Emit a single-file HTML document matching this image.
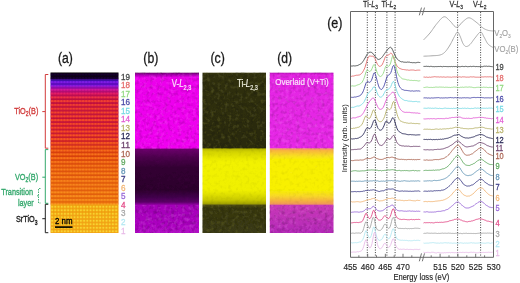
<!DOCTYPE html><html><head><meta charset="utf-8"><style>html,body{margin:0;padding:0;background:#fff;width:520px;height:283px;overflow:hidden}svg{display:block}text{font-family:"Liberation Sans",Arial,sans-serif}</style></head><body>
<svg width="520" height="283" viewBox="0 0 520 283">
<defs>
<filter id="gbl" x="0" y="0" width="520" height="283" filterUnits="userSpaceOnUse"><feGaussianBlur stdDeviation="0.3"/></filter>
<linearGradient id="gad" x1="0" y1="72.5" x2="0" y2="233.0" gradientUnits="userSpaceOnUse"><stop offset="0.0000" stop-color="#06000c"/><stop offset="0.0374" stop-color="#0a0018"/><stop offset="0.0467" stop-color="#4008a8"/><stop offset="0.0810" stop-color="#6008c0"/><stop offset="0.0935" stop-color="#8808a8"/><stop offset="0.1090" stop-color="#a80880"/><stop offset="0.1340" stop-color="#b80858"/><stop offset="0.1713" stop-color="#bc0c40"/><stop offset="0.3583" stop-color="#c41438"/><stop offset="0.4330" stop-color="#cc2028"/><stop offset="0.4953" stop-color="#d63c0c"/><stop offset="0.6075" stop-color="#dc5008"/><stop offset="0.8162" stop-color="#e46408"/><stop offset="0.8287" stop-color="#f0a010"/><stop offset="1.0000" stop-color="#f2a414"/></linearGradient>
<linearGradient id="gab" x1="0" y1="72.5" x2="0" y2="233.0" gradientUnits="userSpaceOnUse"><stop offset="0.0000" stop-color="#140028"/><stop offset="0.0374" stop-color="#1a0038"/><stop offset="0.0467" stop-color="#7420e8"/><stop offset="0.0810" stop-color="#8c18e0"/><stop offset="0.0935" stop-color="#b818c0"/><stop offset="0.1090" stop-color="#d81898"/><stop offset="0.1340" stop-color="#e82060"/><stop offset="0.1713" stop-color="#f24030"/><stop offset="0.3583" stop-color="#f84c24"/><stop offset="0.4330" stop-color="#f85a20"/><stop offset="0.4953" stop-color="#f8701a"/><stop offset="0.6075" stop-color="#f87e1c"/><stop offset="0.8162" stop-color="#f8901e"/><stop offset="0.8287" stop-color="#f8d02c"/><stop offset="1.0000" stop-color="#f8d434"/></linearGradient>
<pattern id="pt" x="50.5" y="72.5" width="3.1" height="3.8" patternUnits="userSpaceOnUse">
<ellipse cx="1.55" cy="2.1" rx="1.2" ry="1.05" fill="#fff"/><rect x="0" y="1.1" width="3.1" height="2.0" fill="#fff" opacity="0.6"/></pattern>
<pattern id="pt2" x="50.5" y="205" width="3.2" height="3.5" patternUnits="userSpaceOnUse">
<ellipse cx="1.6" cy="1.75" rx="1.15" ry="1.2" fill="#fff"/></pattern>
<filter id="bl" x="0" y="0" width="1" height="1"><feGaussianBlur stdDeviation="0.45"/></filter>
<mask id="ma"><rect x="50.5" y="72.5" width="68" height="132.7" fill="url(#pt)"/><rect x="50.5" y="205.2" width="68" height="28" fill="url(#pt2)"/></mask>
<linearGradient id="gb" x1="0" y1="72.5" x2="0" y2="233.0" gradientUnits="userSpaceOnUse"><stop offset="0.0000" stop-color="#600060"/><stop offset="0.0125" stop-color="#a000a8"/><stop offset="0.0312" stop-color="#ec00ec"/><stop offset="0.4692" stop-color="#f000f0"/><stop offset="0.4798" stop-color="#6a006a"/><stop offset="0.5327" stop-color="#4a004a"/><stop offset="0.5950" stop-color="#320032"/><stop offset="0.7321" stop-color="#2c002c"/><stop offset="0.7757" stop-color="#40004a"/><stop offset="0.8069" stop-color="#5a0066"/><stop offset="0.8287" stop-color="#a400b8"/><stop offset="1.0000" stop-color="#b008c4"/></linearGradient>
<linearGradient id="gc" x1="0" y1="72.5" x2="0" y2="233.0" gradientUnits="userSpaceOnUse"><stop offset="0.0000" stop-color="#303010"/><stop offset="0.4704" stop-color="#2a2a0c"/><stop offset="0.4754" stop-color="#b8b800"/><stop offset="0.4953" stop-color="#d4d400"/><stop offset="0.5327" stop-color="#e8e800"/><stop offset="0.5576" stop-color="#f2f200"/><stop offset="0.7321" stop-color="#f0f000"/><stop offset="0.7570" stop-color="#e2e200"/><stop offset="0.7944" stop-color="#c8c800"/><stop offset="0.8162" stop-color="#a4a400"/><stop offset="0.8287" stop-color="#4a4a12"/><stop offset="0.8442" stop-color="#36360f"/><stop offset="1.0000" stop-color="#3a3a14"/></linearGradient>
<linearGradient id="gd" x1="0" y1="72.5" x2="0" y2="233.0" gradientUnits="userSpaceOnUse"><stop offset="0.0000" stop-color="#b010b0"/><stop offset="0.0156" stop-color="#e424e4"/><stop offset="0.4673" stop-color="#e628e6"/><stop offset="0.4735" stop-color="#f08090"/><stop offset="0.4829" stop-color="#f8b040"/><stop offset="0.5202" stop-color="#f8e020"/><stop offset="0.5452" stop-color="#f8f000"/><stop offset="0.7321" stop-color="#f8f000"/><stop offset="0.7695" stop-color="#f8d828"/><stop offset="0.8006" stop-color="#f4b040"/><stop offset="0.8193" stop-color="#f09858"/><stop offset="0.8287" stop-color="#c838b8"/><stop offset="1.0000" stop-color="#b428b8"/></linearGradient>
<filter id="nz" x="0" y="0" width="1" height="1"><feTurbulence type="fractalNoise" baseFrequency="0.28" numOctaves="2" seed="7"/><feGaussianBlur stdDeviation="0.7"/><feColorMatrix type="matrix" values="0 0 0 0 0  0 0 0 0 0  0 0 0 0 0  0 0 0 -1.6 0.85"/></filter>
<filter id="nzb" x="0" y="0" width="1" height="1"><feTurbulence type="fractalNoise" baseFrequency="0.28" numOctaves="2" seed="11"/><feGaussianBlur stdDeviation="0.7"/><feColorMatrix type="matrix" values="0 0 0 0 1  0 0 0 0 0.6  0 0 0 0 1  0 0 0 -1.6 0.8"/></filter>
<filter id="nzc" x="0" y="0" width="1" height="1"><feTurbulence type="fractalNoise" baseFrequency="0.28" numOctaves="2" seed="11"/><feGaussianBlur stdDeviation="0.7"/><feColorMatrix type="matrix" values="0 0 0 0 0.55  0 0 0 0 0.55  0 0 0 0 0.1  0 0 0 -1.6 0.8"/></filter>
<filter id="nzd" x="0" y="0" width="1" height="1"><feTurbulence type="fractalNoise" baseFrequency="0.28" numOctaves="2" seed="11"/><feGaussianBlur stdDeviation="0.7"/><feColorMatrix type="matrix" values="0 0 0 0 1  0 0 0 0 0.55  0 0 0 0 1  0 0 0 -1.6 0.8"/></filter>
</defs>
<rect width="520" height="283" fill="#fff"/><g filter="url(#gbl)">
<g filter="url(#bl)"><rect x="50.5" y="72.5" width="68" height="160.5" fill="url(#gad)"/>
<rect x="50.5" y="72.5" width="68" height="160.5" fill="url(#gab)" mask="url(#ma)"/></g>
<text x="55" y="224.4" font-size="8.6" textLength="17.5" lengthAdjust="spacingAndGlyphs" fill="#000" stroke="#000" stroke-width="0.3">2 nm</text>
<rect x="55" y="226.3" width="17.5" height="1.6" fill="#000"/>
<rect x="135" y="72.7" width="64" height="160.3" fill="url(#gb)"/>
<rect x="202.5" y="72.7" width="63.5" height="160.3" fill="url(#gc)"/>
<rect x="269.8" y="72.7" width="63.7" height="160.3" fill="url(#gd)"/>
<rect x="135" y="72.7" width="64" height="75.8" filter="url(#nz)" opacity="0.25"/>
<rect x="135" y="72.7" width="64" height="75.8" filter="url(#nzb)" opacity="0.3"/>
<rect x="135" y="148.5" width="64" height="56.5" filter="url(#nz)" opacity="0.08"/>
<rect x="135" y="148.5" width="64" height="56.5" filter="url(#nzb)" opacity="0.05"/>
<rect x="135" y="205" width="64" height="28" filter="url(#nz)" opacity="0.3"/>
<rect x="135" y="205" width="64" height="28" filter="url(#nzb)" opacity="0.3"/>
<rect x="202.5" y="72.7" width="63.5" height="75.8" filter="url(#nz)" opacity="0.25"/>
<rect x="202.5" y="72.7" width="63.5" height="75.8" filter="url(#nzc)" opacity="0.3"/>
<rect x="202.5" y="148.5" width="63.5" height="56.5" filter="url(#nz)" opacity="0.08"/>
<rect x="202.5" y="148.5" width="63.5" height="56.5" filter="url(#nzc)" opacity="0.05"/>
<rect x="202.5" y="205" width="63.5" height="28" filter="url(#nz)" opacity="0.3"/>
<rect x="202.5" y="205" width="63.5" height="28" filter="url(#nzc)" opacity="0.3"/>
<rect x="269.8" y="72.7" width="63.7" height="75.8" filter="url(#nz)" opacity="0.25"/>
<rect x="269.8" y="72.7" width="63.7" height="75.8" filter="url(#nzd)" opacity="0.3"/>
<rect x="269.8" y="148.5" width="63.7" height="56.5" filter="url(#nz)" opacity="0.08"/>
<rect x="269.8" y="148.5" width="63.7" height="56.5" filter="url(#nzd)" opacity="0.05"/>
<rect x="269.8" y="205" width="63.7" height="28" filter="url(#nz)" opacity="0.3"/>
<rect x="269.8" y="205" width="63.7" height="28" filter="url(#nzd)" opacity="0.3"/>
<text transform="translate(171.7,87.1) scale(0.79,1)" font-size="10" fill="#fbe4fb" stroke="#fbe4fb" stroke-width="0.2">V-<tspan font-style="italic">L</tspan><tspan font-size="7" dy="2.4">2,3</tspan></text>
<text transform="translate(236.9,87.1) scale(0.79,1)" font-size="10" fill="#f4f4e4" stroke="#f4f4e4" stroke-width="0.2">Ti-<tspan font-style="italic">L</tspan><tspan font-size="7" dy="2.4">2,3</tspan></text>
<text transform="translate(275.2,85.1) scale(0.84,1)" font-size="9.5" fill="#fbe4fb" stroke="#fbe4fb" stroke-width="0.2">Overlaid (V+Ti)</text>
<text x="57.9" y="62.9" font-size="14" textLength="14.9" lengthAdjust="spacingAndGlyphs" fill="#1a1a1a" stroke="#1a1a1a" stroke-width="0.3">(a)</text>
<text x="143.3" y="62.9" font-size="14" textLength="15" lengthAdjust="spacingAndGlyphs" fill="#1a1a1a" stroke="#1a1a1a" stroke-width="0.3">(b)</text>
<text x="210.5" y="62.9" font-size="14" textLength="14.4" lengthAdjust="spacingAndGlyphs" fill="#1a1a1a" stroke="#1a1a1a" stroke-width="0.3">(c)</text>
<text x="277.2" y="62.9" font-size="14" textLength="14.8" lengthAdjust="spacingAndGlyphs" fill="#1a1a1a" stroke="#1a1a1a" stroke-width="0.3">(d)</text>
<text x="327.2" y="27.8" font-size="14" textLength="15.3" lengthAdjust="spacingAndGlyphs" fill="#1a1a1a" stroke="#1a1a1a" stroke-width="0.3">(e)</text>
<text x="121" y="79.6" font-size="8.6" fill="#454848" stroke="#454848" stroke-width="0.3" textLength="9" lengthAdjust="spacingAndGlyphs">19</text>
<text x="121" y="88.15" font-size="8.6" fill="#e46c6c" stroke="#e46c6c" stroke-width="0.3" textLength="9" lengthAdjust="spacingAndGlyphs">18</text>
<text x="121" y="96.7" font-size="8.6" fill="#94da84" stroke="#94da84" stroke-width="0.3" textLength="9" lengthAdjust="spacingAndGlyphs">17</text>
<text x="121" y="105.25" font-size="8.6" fill="#4a4aa8" stroke="#4a4aa8" stroke-width="0.3" textLength="9" lengthAdjust="spacingAndGlyphs">16</text>
<text x="121" y="113.8" font-size="8.6" fill="#78dae4" stroke="#78dae4" stroke-width="0.3" textLength="9" lengthAdjust="spacingAndGlyphs">15</text>
<text x="121" y="122.35" font-size="8.6" fill="#e25cd4" stroke="#e25cd4" stroke-width="0.3" textLength="9" lengthAdjust="spacingAndGlyphs">14</text>
<text x="121" y="130.9" font-size="8.6" fill="#b8b26a" stroke="#b8b26a" stroke-width="0.3" textLength="9" lengthAdjust="spacingAndGlyphs">13</text>
<text x="121" y="139.45" font-size="8.6" fill="#2a2a58" stroke="#2a2a58" stroke-width="0.3" textLength="9" lengthAdjust="spacingAndGlyphs">12</text>
<text x="121" y="148" font-size="8.6" fill="#704670" stroke="#704670" stroke-width="0.3" textLength="9" lengthAdjust="spacingAndGlyphs">11</text>
<text x="121" y="156.55" font-size="8.6" fill="#ac6654" stroke="#ac6654" stroke-width="0.3" textLength="9" lengthAdjust="spacingAndGlyphs">10</text>
<text x="121" y="165.1" font-size="8.6" fill="#62aa62" stroke="#62aa62" stroke-width="0.3" textLength="4.5" lengthAdjust="spacingAndGlyphs">9</text>
<text x="121" y="173.65" font-size="8.6" fill="#6898b8" stroke="#6898b8" stroke-width="0.3" textLength="4.5" lengthAdjust="spacingAndGlyphs">8</text>
<text x="121" y="182.2" font-size="8.6" fill="#404088" stroke="#404088" stroke-width="0.3" textLength="4.5" lengthAdjust="spacingAndGlyphs">7</text>
<text x="121" y="190.75" font-size="8.6" fill="#f2b676" stroke="#f2b676" stroke-width="0.3" textLength="4.5" lengthAdjust="spacingAndGlyphs">6</text>
<text x="121" y="199.3" font-size="8.6" fill="#9a6ad8" stroke="#9a6ad8" stroke-width="0.3" textLength="4.5" lengthAdjust="spacingAndGlyphs">5</text>
<text x="121" y="207.85" font-size="8.6" fill="#e24c88" stroke="#e24c88" stroke-width="0.3" textLength="4.5" lengthAdjust="spacingAndGlyphs">4</text>
<text x="121" y="216.4" font-size="8.6" fill="#a8a8a8" stroke="#a8a8a8" stroke-width="0.3" textLength="4.5" lengthAdjust="spacingAndGlyphs">3</text>
<text x="121" y="224.95" font-size="8.6" fill="#b4e8f2" stroke="#b4e8f2" stroke-width="0.3" textLength="4.5" lengthAdjust="spacingAndGlyphs">2</text>
<text x="121" y="233.5" font-size="8.6" fill="#e8bce8" stroke="#e8bce8" stroke-width="0.3" textLength="4.5" lengthAdjust="spacingAndGlyphs">1</text>
<path d="M48.3,74.5 H45.3 V148.2 H48.3 M45.3,111.6 H42.3" fill="none" stroke="#d23c3c" stroke-width="1"/>
<path d="M48.3,149.6 H45.3 V203.3 H48.3 M45.3,177.2 H42.3" fill="none" stroke="#33a86c" stroke-width="1"/>
<path d="M48.3,204.3 H45.3 V232.7 H48.3 M45.3,218.7 H42.3" fill="none" stroke="#202020" stroke-width="1"/>
<path d="M40.5,188.5 H38.5 V203 H40.5 M38.5,195.8 H36.8" fill="none" stroke="#33a86c" stroke-width="0.9" stroke-dasharray="1.5,1"/>
<text transform="translate(14.3,114) scale(0.77,1)" font-size="9.5" fill="#d23c3c" stroke="#d23c3c" stroke-width="0.35">TiO<tspan font-size="6.5" dy="2.2">2</tspan><tspan font-size="9.5" dy="-2.2">(B)</tspan></text>
<text transform="translate(15,179.8) scale(0.77,1)" font-size="9.5" fill="#33a86c" stroke="#33a86c" stroke-width="0.35">VO<tspan font-size="6.5" dy="2.2">2</tspan><tspan font-size="9.5" dy="-2.2">(B)</tspan></text>
<text transform="translate(1.2,194.8) scale(0.77,1)" font-size="9.5" fill="#33a86c" stroke="#33a86c" stroke-width="0.35">Transition</text>
<text transform="translate(17.9,206.2) scale(0.77,1)" font-size="9.5" fill="#33a86c" stroke="#33a86c" stroke-width="0.35">layer</text>
<text transform="translate(15.9,222.4) scale(0.77,1)" font-size="9.5" fill="#1a1a1a" stroke="#1a1a1a" stroke-width="0.35">SrTiO<tspan font-size="6.5" dy="2.2">3</tspan></text>
<line x1="367.3" y1="12" x2="367.3" y2="257" stroke="#3a3a3a" stroke-width="0.9" stroke-dasharray="1.1,1.4"/>
<line x1="375.4" y1="12" x2="375.4" y2="257" stroke="#3a3a3a" stroke-width="0.9" stroke-dasharray="1.1,1.4"/>
<line x1="386.9" y1="12" x2="386.9" y2="257" stroke="#3a3a3a" stroke-width="0.9" stroke-dasharray="1.1,1.4"/>
<line x1="395.1" y1="12" x2="395.1" y2="257" stroke="#3a3a3a" stroke-width="0.9" stroke-dasharray="1.1,1.4"/>
<line x1="457.6" y1="12" x2="457.6" y2="257" stroke="#3a3a3a" stroke-width="0.9" stroke-dasharray="1.1,1.4"/>
<line x1="480.6" y1="12" x2="480.6" y2="257" stroke="#3a3a3a" stroke-width="0.9" stroke-dasharray="1.1,1.4"/>
<path d="M423.5,40 424,39.48 424.66,38.8 425.44,38 426.31,37.09 427.24,36.12 428.19,35.09 429.12,34.04 430,33 430.85,31.91 431.71,30.74 432.59,29.5 433.47,28.23 434.35,26.97 435.24,25.74 436.12,24.57 437,23.5 437.88,22.45 438.77,21.37 439.67,20.3 440.56,19.29 441.45,18.39 442.32,17.64 443.17,17.1 444,16.8 444.79,16.79 445.56,17.03 446.3,17.48 447.03,18.09 447.76,18.79 448.49,19.55 449.23,20.3 450,21 450.79,21.77 451.59,22.71 452.4,23.74 453.22,24.78 454.04,25.73 454.86,26.53 455.68,27.08 456.5,27.3 457.32,27.14 458.14,26.65 458.96,25.92 459.78,25.02 460.6,24.05 461.41,23.09 462.21,22.21 463,21.5 463.77,20.88 464.51,20.24 465.24,19.61 465.97,19.03 466.7,18.52 467.44,18.12 468.21,17.87 469,17.8 469.83,17.93 470.68,18.25 471.55,18.72 472.44,19.29 473.33,19.95 474.23,20.64 475.12,21.33 476,22 476.89,22.69 477.8,23.46 478.71,24.28 479.62,25.12 480.52,25.94 481.39,26.72 482.22,27.41 483,28 483.72,28.48 484.39,28.87 485.02,29.2 485.62,29.48 486.21,29.72 486.8,29.92 487.39,30.11 488,30.3 488.66,30.47 489.37,30.6 490.09,30.71 490.81,30.79 491.49,30.86 492.1,30.91 492.61,30.96 493,31" fill="none" stroke="#a8a8a8" stroke-width="1"/>
<path d="M423.5,56.2 424.16,56.17 425.04,56.14 426.09,56.1 427.25,56.05 428.48,56 429.71,55.94 430.9,55.87 432,55.8 433.04,55.73 434.11,55.68 435.17,55.63 436.22,55.56 437.24,55.48 438.22,55.36 439.15,55.21 440,55 440.77,54.76 441.46,54.5 442.09,54.21 442.69,53.89 443.26,53.51 443.82,53.08 444.4,52.58 445,52 445.62,51.33 446.25,50.59 446.88,49.78 447.5,48.91 448.12,47.98 448.75,47.02 449.38,46.02 450,45 450.64,43.89 451.31,42.66 451.98,41.36 452.65,40.03 453.3,38.73 453.92,37.51 454.49,36.42 455,35.5 455.44,34.72 455.82,34.03 456.16,33.42 456.46,32.91 456.75,32.5 457.02,32.21 457.3,32.04 457.6,32 457.91,32.12 458.2,32.39 458.49,32.8 458.78,33.31 459.06,33.91 459.36,34.58 459.67,35.28 460,36 460.35,36.8 460.71,37.73 461.08,38.75 461.46,39.81 461.85,40.86 462.24,41.86 462.62,42.75 463,43.5 463.37,44.12 463.73,44.68 464.08,45.17 464.44,45.59 464.8,45.94 465.18,46.21 465.58,46.4 466,46.5 466.45,46.52 466.91,46.46 467.38,46.31 467.88,46.09 468.38,45.8 468.91,45.43 469.45,45 470,44.5 470.57,43.9 471.17,43.18 471.78,42.37 472.4,41.5 473.04,40.6 473.68,39.7 474.34,38.82 475,38 475.69,37.15 476.41,36.21 477.15,35.23 477.9,34.28 478.63,33.42 479.34,32.71 480,32.22 480.6,32 481.13,32.08 481.59,32.43 482.01,32.98 482.4,33.69 482.78,34.5 483.16,35.35 483.56,36.2 484,37 484.46,37.8 484.93,38.69 485.41,39.63 485.9,40.59 486.4,41.54 486.92,42.45 487.45,43.28 488,44 488.61,44.63 489.3,45.2 490.02,45.72 490.75,46.19 491.45,46.6 492.08,46.95 492.61,47.25 493,47.5" fill="none" stroke="#a8a8a8" stroke-width="1"/>
<path d="M351,66.11 351.7,66.01 352.4,66.01 353.1,65.89 353.8,65.79 354.5,65.94 355.2,66.03 355.9,65.68 356.6,65.67 357.3,65.61 358,65.15 358.7,64.99 359.4,64.58 360.1,64.29 360.8,63.79 361.5,63.39 362.2,62.56 362.9,61.52 363.6,60.55 364.3,59.32 365,58.04 365.7,56.99 366.4,55.54 367.1,54.35 367.8,53.51 368.5,53 369.2,52.32 369.9,52.19 370.6,52.18 371.3,52.32 372,52.74 372.7,53.26 373.4,54.2 374.1,55.03 374.8,56.08 375.5,56.84 376.2,57.58 376.9,58.54 377.6,59.16 378.3,59.48 379,59.23 379.7,59.11 380.4,58.68 381.1,58.21 381.8,57.44 382.5,56.6 383.2,55.68 383.9,54.62 384.6,53.62 385.3,52.57 386,51.74 386.7,50.79 387.4,49.89 388.1,48.91 388.8,48.12 389.5,47.7 390.2,47.25 390.9,47.33 391.6,48.02 392.3,49.32 393,50.77 393.7,52.56 394.4,53.98 395.1,55.47 395.8,56.92 396.5,58.24 397.2,58.95 397.9,59.52 398.6,60.41 399.3,60.73 400,61.17 400.7,61.6 401.4,61.84 402.1,61.8 402.8,61.75 403.5,62.11 404.2,62.09 404.9,62.35 405.6,62.22 406.3,62.32 407,62.16 407.7,62.02 408.4,62.16 409.1,62.04 409.8,62.27 410.5,62.52 411.2,62.45 411.9,62.66 412.6,62.72 413.3,62.67 414,62.55 414.7,62.69 415.4,62.82 416.1,62.55 416.8,62.63 417.5,62.39 418.2,62.28 418.9,62.45 419.6,62.51 420.3,62.53" fill="none" stroke="#454848" stroke-width="0.9" stroke-linejoin="round"/>
<path d="M423.5,66.42 424.2,66.41 424.9,66.42 425.6,66.4 426.3,66.24 427,66.34 427.7,66.44 428.4,66.37 429.1,66.53 429.8,66.61 430.5,66.35 431.2,66.4 431.9,66.42 432.6,66.67 433.3,66.64 434,66.55 434.7,66.74 435.4,66.59 436.1,66.5 436.8,66.69 437.5,66.56 438.2,66.55 438.9,66.45 439.6,66.54 440.3,66.43 441,66.35 441.7,66.62 442.4,66.77 443.1,66.58 443.8,66.35 444.5,66.52 445.2,66.53 445.9,66.48 446.6,66.57 447.3,66.6 448,66.64 448.7,66.64 449.4,66.54 450.1,66.61 450.8,66.62 451.5,66.45 452.2,66.68 452.9,66.58 453.6,66.44 454.3,66.55 455,66.65 455.7,66.46 456.4,66.59 457.1,66.69 457.8,66.64 458.5,66.5 459.2,66.67 459.9,66.68 460.6,66.68 461.3,66.46 462,66.5 462.7,66.35 463.4,66.55 464.1,66.6 464.8,66.5 465.5,66.33 466.2,66.42 466.9,66.57 467.6,66.71 468.3,66.61 469,66.7 469.7,66.49 470.4,66.34 471.1,66.55 471.8,66.62 472.5,66.44 473.2,66.4 473.9,66.31 474.6,66.45 475.3,66.63 476,66.67 476.7,66.47 477.4,66.58 478.1,66.62 478.8,66.61 479.5,66.6 480.2,66.6 480.9,66.37 481.6,66.58 482.3,66.76 483,66.46 483.7,66.31 484.4,66.17 485.1,66.33 485.8,66.2 486.5,66.13 487.2,66.4 487.9,66.33 488.6,66.25 489.3,66.28 490,66.36 490.7,66.51 491.4,66.57 492.1,66.66 492.8,66.79" fill="none" stroke="#454848" stroke-width="0.9" stroke-linejoin="round"/>
<path d="M351,76.33 351.7,76.32 352.4,76.06 353.1,76.21 353.8,75.9 354.5,75.76 355.2,75.54 355.9,75.37 356.6,75.22 357.3,75.2 358,75.35 358.7,75.02 359.4,74.94 360.1,74.66 360.8,74.09 361.5,73.5 362.2,72.79 362.9,71.61 363.6,70.39 364.3,69 365,67.29 365.7,65 366.4,62.77 367.1,60.36 367.8,58.42 368.5,57.04 369.2,56.15 369.9,55.79 370.6,56.14 371.3,56.22 372,56.2 372.7,56.23 373.4,56.4 374.1,57.3 374.8,58.29 375.5,59.62 376.2,61.52 376.9,63.14 377.6,64.52 378.3,65.47 379,66.14 379.7,66.41 380.4,66.17 381.1,65.94 381.8,65.2 382.5,64.02 383.2,62.52 383.9,60.82 384.6,58.67 385.3,56.93 386,56.07 386.7,55.46 387.4,55.3 388.1,55.16 388.8,54.8 389.5,54.08 390.2,53.42 390.9,53.13 391.6,53.46 392.3,54.43 393,56.14 393.7,57.98 394.4,59.87 395.1,61.84 395.8,63.69 396.5,65.17 397.2,66.27 397.9,67.06 398.6,67.6 399.3,68.22 400,68.49 400.7,68.79 401.4,69.1 402.1,69.35 402.8,69.49 403.5,69.5 404.2,69.67 404.9,69.67 405.6,69.8 406.3,69.99 407,69.99 407.7,69.94 408.4,70.2 409.1,70.21 409.8,70.23 410.5,70.05 411.2,69.93 411.9,70.11 412.6,70 413.3,69.99 414,70.22 414.7,70.28 415.4,70.47 416.1,70.28 416.8,70.25 417.5,70.13 418.2,70.1 418.9,70.15 419.6,70.15 420.3,70.23" fill="none" stroke="#e46c6c" stroke-width="0.9" stroke-linejoin="round"/>
<path d="M423.5,77.07 424.2,77 424.9,77.22 425.6,77.29 426.3,77.05 427,77.23 427.7,77.32 428.4,77.37 429.1,77.05 429.8,77.17 430.5,77.31 431.2,77.04 431.9,77.19 432.6,76.96 433.3,76.9 434,76.79 434.7,76.68 435.4,76.77 436.1,76.73 436.8,77.04 437.5,76.91 438.2,76.94 438.9,76.87 439.6,77.09 440.3,76.95 441,76.78 441.7,77.06 442.4,77.11 443.1,77.04 443.8,76.88 444.5,77.04 445.2,77.17 445.9,77.21 446.6,77.07 447.3,76.93 448,77.01 448.7,77.06 449.4,77.08 450.1,77.12 450.8,77.11 451.5,77.25 452.2,77.15 452.9,76.88 453.6,76.97 454.3,76.87 455,77.07 455.7,76.96 456.4,76.86 457.1,76.84 457.8,76.9 458.5,76.95 459.2,76.9 459.9,76.77 460.6,77.01 461.3,77.19 462,77 462.7,76.82 463.4,76.88 464.1,76.96 464.8,76.88 465.5,77.06 466.2,77.14 466.9,77.22 467.6,77.09 468.3,77.14 469,77.2 469.7,77.04 470.4,76.82 471.1,76.98 471.8,76.9 472.5,76.98 473.2,76.83 473.9,76.86 474.6,77.02 475.3,77.14 476,77.29 476.7,77.18 477.4,77.16 478.1,77.24 478.8,77.21 479.5,77.2 480.2,77 480.9,77.16 481.6,76.88 482.3,76.94 483,76.92 483.7,76.96 484.4,76.83 485.1,76.76 485.8,76.83 486.5,76.91 487.2,76.85 487.9,76.75 488.6,76.89 489.3,76.83 490,76.7 490.7,76.83 491.4,77.02 492.1,77.13 492.8,76.98" fill="none" stroke="#e46c6c" stroke-width="0.9" stroke-linejoin="round"/>
<path d="M351,86.19 351.7,85.96 352.4,85.83 353.1,85.98 353.8,86.05 354.5,86.02 355.2,85.97 355.9,85.65 356.6,85.31 357.3,84.99 358,84.98 358.7,84.56 359.4,84.38 360.1,84.01 360.8,83.37 361.5,82.91 362.2,82.15 362.9,80.76 363.6,79.39 364.3,77.59 365,75.34 365.7,72.92 366.4,71.15 367.1,70.06 367.8,70.03 368.5,70.65 369.2,71.41 369.9,71.55 370.6,71.01 371.3,70.18 372,68.63 372.7,66.91 373.4,65.25 374.1,64.43 374.8,65.42 375.5,67.19 376.2,69.45 376.9,71.94 377.6,73.53 378.3,74.98 379,75.77 379.7,76.22 380.4,76.54 381.1,76.28 381.8,75.71 382.5,74.7 383.2,73.56 383.9,71.71 384.6,69.47 385.3,67.37 386,65.83 386.7,65.43 387.4,65.67 388.1,66.24 388.8,66.23 389.5,65.56 390.2,64.14 390.9,62.1 391.6,59.28 392.3,56.69 393,55.63 393.7,56.34 394.4,59.09 395.1,62.9 395.8,66.16 396.5,69.35 397.2,71.77 397.9,73.48 398.6,74.87 399.3,75.95 400,76.74 400.7,77.44 401.4,78.04 402.1,78.56 402.8,79.01 403.5,79.06 404.2,79.14 404.9,79.34 405.6,79.42 406.3,79.68 407,79.91 407.7,80.03 408.4,79.92 409.1,80.24 409.8,80.26 410.5,80.4 411.2,80.28 411.9,80.41 412.6,80.51 413.3,80.55 414,80.53 414.7,80.43 415.4,80.57 416.1,80.44 416.8,80.7 417.5,80.79 418.2,80.93 418.9,81.02 419.6,80.79 420.3,80.67" fill="none" stroke="#94da84" stroke-width="0.9" stroke-linejoin="round"/>
<path d="M423.5,87.41 424.2,87.5 424.9,87.46 425.6,87.29 426.3,87.15 427,87.1 427.7,87.14 428.4,87.36 429.1,87.38 429.8,87.48 430.5,87.4 431.2,87.33 431.9,87.45 432.6,87.5 433.3,87.3 434,87.5 434.7,87.29 435.4,87.12 436.1,87 436.8,87.17 437.5,87.2 438.2,87.2 438.9,87.18 439.6,87.02 440.3,87.05 441,87.24 441.7,87.1 442.4,87.19 443.1,87.19 443.8,87.13 444.5,87.42 445.2,87.25 445.9,87.2 446.6,87.24 447.3,87.26 448,87.29 448.7,87.43 449.4,87.36 450.1,87.54 450.8,87.45 451.5,87.32 452.2,87.34 452.9,87.29 453.6,87.09 454.3,87 455,87.28 455.7,87.16 456.4,87.16 457.1,87.42 457.8,87.43 458.5,87.5 459.2,87.6 459.9,87.46 460.6,87.21 461.3,87.32 462,87.15 462.7,87.13 463.4,87.36 464.1,87.18 464.8,87.18 465.5,87.04 466.2,87.05 466.9,87.04 467.6,87.22 468.3,87.11 469,87 469.7,86.96 470.4,87.12 471.1,87.08 471.8,87.18 472.5,87.4 473.2,87.56 473.9,87.64 474.6,87.64 475.3,87.65 476,87.51 476.7,87.34 477.4,87.31 478.1,87.34 478.8,87.26 479.5,87.36 480.2,87.35 480.9,87.22 481.6,87.29 482.3,87.44 483,87.21 483.7,87.15 484.4,87.27 485.1,87.34 485.8,87.31 486.5,87.26 487.2,87.4 487.9,87.58 488.6,87.6 489.3,87.35 490,87.49 490.7,87.43 491.4,87.51 492.1,87.56 492.8,87.6" fill="none" stroke="#94da84" stroke-width="0.9" stroke-linejoin="round"/>
<path d="M351,97.3 351.7,97.31 352.4,97.36 353.1,97.33 353.8,97.25 354.5,97.03 355.2,97.05 355.9,97.03 356.6,96.78 357.3,96.58 358,96.25 358.7,96.23 359.4,95.9 360.1,95.5 360.8,95.12 361.5,94.06 362.2,93.19 362.9,92.01 363.6,90.27 364.3,88.39 365,86.07 365.7,83.94 366.4,82.34 367.1,81.58 367.8,81.4 368.5,82 369.2,82.29 369.9,82.39 370.6,81.7 371.3,80.68 372,78.98 372.7,76.79 373.4,74.37 374.1,72.89 374.8,73.02 375.5,74.78 376.2,77.2 376.9,79.85 377.6,82.56 378.3,85.1 379,87.02 379.7,88.32 380.4,89.08 381.1,89.45 381.8,89.36 382.5,88.59 383.2,87.4 383.9,86.2 384.6,84.2 385.3,82.17 386,79.8 386.7,77.53 387.4,75.85 388.1,75.34 388.8,75.07 389.5,74.62 390.2,73.62 390.9,72.44 391.6,70.44 392.3,67.84 393,66.02 393.7,65.3 394.4,66.52 395.1,69.2 395.8,72.62 396.5,76.51 397.2,79.69 397.9,82.38 398.6,84.47 399.3,86.18 400,87.25 400.7,88.26 401.4,88.93 402.1,89.47 402.8,89.61 403.5,89.88 404.2,90.17 404.9,90.43 405.6,90.37 406.3,90.42 407,90.43 407.7,90.6 408.4,90.68 409.1,90.9 409.8,90.8 410.5,91.05 411.2,91.03 411.9,90.9 412.6,90.86 413.3,91.11 414,91.2 414.7,91 415.4,90.98 416.1,90.87 416.8,90.81 417.5,90.97 418.2,90.87 418.9,90.89 419.6,91.08 420.3,91.19" fill="none" stroke="#4a4aa8" stroke-width="0.9" stroke-linejoin="round"/>
<path d="M423.5,97.99 424.2,97.96 424.9,97.7 425.6,97.91 426.3,97.84 427,97.99 427.7,98.1 428.4,97.91 429.1,97.98 429.8,98.11 430.5,98.14 431.2,97.94 431.9,97.85 432.6,98.04 433.3,98.06 434,97.75 434.7,97.89 435.4,97.83 436.1,97.85 436.8,97.71 437.5,97.7 438.2,97.61 438.9,97.67 439.6,97.86 440.3,97.98 441,98.09 441.7,97.83 442.4,97.99 443.1,98.12 443.8,97.79 444.5,97.93 445.2,97.7 445.9,97.92 446.6,97.89 447.3,97.98 448,97.76 448.7,97.73 449.4,97.69 450.1,97.62 450.8,97.53 451.5,97.71 452.2,97.7 452.9,97.76 453.6,97.95 454.3,97.74 455,97.72 455.7,97.62 456.4,97.82 457.1,97.79 457.8,97.81 458.5,97.71 459.2,97.93 459.9,97.95 460.6,97.89 461.3,98.05 462,97.92 462.7,97.77 463.4,97.82 464.1,97.74 464.8,97.72 465.5,97.88 466.2,97.91 466.9,97.65 467.6,97.78 468.3,97.82 469,97.99 469.7,98.04 470.4,98.09 471.1,97.79 471.8,97.69 472.5,97.57 473.2,97.45 473.9,97.54 474.6,97.45 475.3,97.58 476,97.7 476.7,97.54 477.4,97.47 478.1,97.4 478.8,97.57 479.5,97.54 480.2,97.69 480.9,97.51 481.6,97.44 482.3,97.68 483,97.54 483.7,97.78 484.4,97.97 485.1,97.8 485.8,97.89 486.5,97.85 487.2,97.77 487.9,97.98 488.6,97.8 489.3,97.9 490,97.89 490.7,97.92 491.4,97.77 492.1,97.67 492.8,97.82" fill="none" stroke="#4a4aa8" stroke-width="0.9" stroke-linejoin="round"/>
<path d="M351,107.46 351.7,107.42 352.4,107.31 353.1,107.36 353.8,107.31 354.5,106.97 355.2,106.75 355.9,106.44 356.6,106.19 357.3,106.01 358,106.03 358.7,106.04 359.4,105.85 360.1,105.52 360.8,105.1 361.5,104.62 362.2,104.12 362.9,103.25 363.6,102.54 364.3,101.49 365,100.04 365.7,98.48 366.4,96.99 367.1,95.43 367.8,93.77 368.5,92.89 369.2,92.24 369.9,91.61 370.6,91.01 371.3,90.38 372,89.46 372.7,88.27 373.4,87.04 374.1,86.69 374.8,87.04 375.5,88.39 376.2,90.09 376.9,92.26 377.6,93.99 378.3,95.42 379,96.25 379.7,96.82 380.4,97.21 381.1,97.02 381.8,96.79 382.5,96.12 383.2,95.2 383.9,93.76 384.6,92.41 385.3,91.14 386,90.23 386.7,89.6 387.4,89.36 388.1,89.29 388.8,88.96 389.5,88.35 390.2,87.58 390.9,86.36 391.6,84.5 392.3,82.73 393,81.67 393.7,81.53 394.4,82.79 395.1,85.04 395.8,87.65 396.5,90.2 397.2,92.14 397.9,93.69 398.6,95.01 399.3,96.28 400,97.19 400.7,97.81 401.4,98.37 402.1,98.93 402.8,99.44 403.5,99.79 404.2,100.22 404.9,100.54 405.6,100.57 406.3,100.5 407,100.69 407.7,100.91 408.4,101.1 409.1,101.2 409.8,101.13 410.5,101.27 411.2,101.15 411.9,101.46 412.6,101.59 413.3,101.59 414,101.66 414.7,101.52 415.4,101.46 416.1,101.39 416.8,101.5 417.5,101.83 418.2,101.8 418.9,101.81 419.6,101.84 420.3,101.96" fill="none" stroke="#78dae4" stroke-width="0.9" stroke-linejoin="round"/>
<path d="M423.5,108.26 424.2,108.1 424.9,108.35 425.6,108.26 426.3,108.33 427,108.31 427.7,108.13 428.4,108 429.1,108.06 429.8,108.29 430.5,108.11 431.2,108.32 431.9,108.37 432.6,108.2 433.3,108.32 434,108.41 434.7,108.17 435.4,108.03 436.1,108.22 436.8,108.3 437.5,108.39 438.2,108.52 438.9,108.54 439.6,108.23 440.3,108.45 441,108.51 441.7,108.56 442.4,108.64 443.1,108.49 443.8,108.31 444.5,108.16 445.2,108.16 445.9,108.07 446.6,108.38 447.3,108.44 448,108.18 448.7,108.42 449.4,108.47 450.1,108.41 450.8,108.47 451.5,108.38 452.2,108.55 452.9,108.57 453.6,108.26 454.3,108.43 455,108.2 455.7,108.38 456.4,108.13 457.1,108.12 457.8,108.13 458.5,108.35 459.2,108.53 459.9,108.32 460.6,108.46 461.3,108.53 462,108.3 462.7,108.13 463.4,108.4 464.1,108.16 464.8,108.2 465.5,108.29 466.2,108.47 466.9,108.45 467.6,108.17 468.3,108.32 469,108.48 469.7,108.56 470.4,108.62 471.1,108.56 471.8,108.27 472.5,108.47 473.2,108.54 473.9,108.25 474.6,108.05 475.3,107.94 476,108.2 476.7,108.3 477.4,108.1 478.1,108.19 478.8,108.14 479.5,108.29 480.2,108.5 480.9,108.49 481.6,108.3 482.3,108.18 483,108.2 483.7,108.25 484.4,108.26 485.1,108.3 485.8,108.28 486.5,108.14 487.2,108.34 487.9,108.28 488.6,108.1 489.3,108.03 490,108.28 490.7,108.08 491.4,108.02 492.1,108.28 492.8,108.39" fill="none" stroke="#78dae4" stroke-width="0.9" stroke-linejoin="round"/>
<path d="M351,118.26 351.7,118.34 352.4,117.96 353.1,117.95 353.8,117.72 354.5,117.88 355.2,117.98 355.9,117.62 356.6,117.38 357.3,117.08 358,116.94 358.7,116.81 359.4,116.47 360.1,116.37 360.8,115.85 361.5,115.26 362.2,114.65 362.9,113.61 363.6,112.57 364.3,111.26 365,109.89 365.7,108.45 366.4,106.98 367.1,105.51 367.8,104.1 368.5,102.94 369.2,101.92 369.9,100.95 370.6,100.22 371.3,99.1 372,98.47 372.7,98.14 373.4,98.11 374.1,98.67 374.8,100.06 375.5,101.63 376.2,103.52 376.9,104.99 377.6,106.58 378.3,107.85 379,108.78 379.7,109.22 380.4,109.33 381.1,109.35 381.8,109.01 382.5,108.22 383.2,107.36 383.9,105.96 384.6,104.14 385.3,102.26 386,100.69 386.7,98.81 387.4,97.52 388.1,96.3 388.8,95.71 389.5,95.26 390.2,94.59 390.9,93.73 391.6,93.08 392.3,92.29 393,91.96 393.7,92.42 394.4,93.62 395.1,95.36 395.8,97.57 396.5,99.92 397.2,102.05 397.9,103.93 398.6,105.74 399.3,107.45 400,108.76 400.7,109.72 401.4,110.36 402.1,111.06 402.8,111.6 403.5,111.88 404.2,112.12 404.9,112.41 405.6,112.4 406.3,112.26 407,112.37 407.7,112.37 408.4,112.36 409.1,112.36 409.8,112.35 410.5,112.57 411.2,112.61 411.9,112.89 412.6,112.74 413.3,112.88 414,112.94 414.7,112.8 415.4,112.99 416.1,113.15 416.8,112.98 417.5,112.98 418.2,113.21 418.9,113.38 419.6,113.35 420.3,113.49" fill="none" stroke="#e25cd4" stroke-width="0.9" stroke-linejoin="round"/>
<path d="M423.5,118.83 424.2,118.94 424.9,118.96 425.6,118.93 426.3,118.85 427,118.84 427.7,118.74 428.4,118.67 429.1,118.73 429.8,118.91 430.5,118.63 431.2,118.58 431.9,118.83 432.6,118.81 433.3,118.66 434,118.47 434.7,118.75 435.4,118.95 436.1,118.86 436.8,118.82 437.5,118.59 438.2,118.48 438.9,118.62 439.6,118.67 440.3,118.61 441,118.44 441.7,118.62 442.4,118.64 443.1,118.77 443.8,118.59 444.5,118.73 445.2,118.4 445.9,118.35 446.6,118.28 447.3,118.41 448,118.4 448.7,118.25 449.4,117.96 450.1,117.88 450.8,117.9 451.5,117.57 452.2,117.47 452.9,117.43 453.6,117.52 454.3,117.49 455,117.19 455.7,117.33 456.4,117.23 457.1,117.13 457.8,117.19 458.5,117.09 459.2,117.04 459.9,117.1 460.6,117.25 461.3,117.65 462,118.01 462.7,118.1 463.4,118.25 464.1,118.43 464.8,118.25 465.5,118.44 466.2,118.3 466.9,118.15 467.6,118.42 468.3,118.22 469,118.31 469.7,118.42 470.4,118.47 471.1,118.54 471.8,118.34 472.5,118.24 473.2,117.93 473.9,117.71 474.6,117.88 475.3,117.79 476,117.7 476.7,117.7 477.4,117.63 478.1,117.56 478.8,117.31 479.5,117.31 480.2,117.41 480.9,117.44 481.6,117.4 482.3,117.38 483,117.57 483.7,117.55 484.4,117.81 485.1,117.82 485.8,117.91 486.5,118.2 487.2,118.16 487.9,118.32 488.6,118.38 489.3,118.41 490,118.44 490.7,118.54 491.4,118.79 492.1,118.62 492.8,118.49" fill="none" stroke="#e25cd4" stroke-width="0.9" stroke-linejoin="round"/>
<path d="M351,128.51 351.7,128.46 352.4,128.54 353.1,128.28 353.8,128.18 354.5,128.28 355.2,128.03 355.9,127.75 356.6,127.79 357.3,127.44 358,127.34 358.7,127.28 359.4,126.81 360.1,126.45 360.8,125.71 361.5,124.89 362.2,124.01 362.9,122.57 363.6,120.69 364.3,118.86 365,117.11 365.7,115.93 366.4,116.05 367.1,116.91 367.8,117.85 368.5,118.32 369.2,118.53 369.9,118.13 370.6,116.81 371.3,115.15 372,113.24 372.7,111.1 373.4,109.9 374.1,110.38 374.8,111.93 375.5,114.14 376.2,116.3 376.9,118.28 377.6,119.88 378.3,120.69 379,121.19 379.7,121.63 380.4,121.73 381.1,121.55 381.8,121.28 382.5,120.5 383.2,119.5 383.9,118.2 384.6,116.56 385.3,114.25 386,111.88 386.7,109.6 387.4,108.59 388.1,108.59 388.8,109.27 389.5,109.64 390.2,109.32 390.9,108.42 391.6,106.65 392.3,104.14 393,102.09 393.7,101.34 394.4,102.89 395.1,105.97 395.8,109.26 396.5,112.14 397.2,114.6 397.9,116.69 398.6,118.31 399.3,119.65 400,120.52 400.7,121.15 401.4,121.34 402.1,121.9 402.8,121.94 403.5,122.23 404.2,122.48 404.9,122.75 405.6,122.64 406.3,122.95 407,123 407.7,123.08 408.4,123.3 409.1,123.43 409.8,123.2 410.5,123.16 411.2,123.18 411.9,123.13 412.6,123.47 413.3,123.42 414,123.37 414.7,123.59 415.4,123.63 416.1,123.43 416.8,123.6 417.5,123.52 418.2,123.74 418.9,123.66 419.6,123.79 420.3,123.77" fill="none" stroke="#b8b26a" stroke-width="0.9" stroke-linejoin="round"/>
<path d="M423.5,129.43 424.2,129.23 424.9,129.16 425.6,129.23 426.3,129.19 427,129.28 427.7,129.16 428.4,129.33 429.1,129.31 429.8,129.27 430.5,129.34 431.2,129.53 431.9,129.58 432.6,129.41 433.3,129.49 434,129.29 434.7,129.29 435.4,129.08 436.1,129 436.8,129 437.5,129.15 438.2,129.38 438.9,129.29 439.6,129.14 440.3,128.97 441,129.17 441.7,129.3 442.4,128.99 443.1,128.9 443.8,128.94 444.5,128.83 445.2,128.99 445.9,128.88 446.6,128.73 447.3,128.63 448,128.72 448.7,128.75 449.4,128.5 450.1,128.18 450.8,128.27 451.5,128.33 452.2,128.28 452.9,127.88 453.6,127.77 454.3,127.64 455,127.28 455.7,127.21 456.4,127.3 457.1,127.17 457.8,127.41 458.5,127.48 459.2,127.42 459.9,127.7 460.6,128.02 461.3,128.08 462,128.27 462.7,128.16 463.4,128.52 464.1,128.46 464.8,128.64 465.5,128.57 466.2,128.69 466.9,128.67 467.6,128.79 468.3,128.89 469,128.83 469.7,128.61 470.4,128.65 471.1,128.68 471.8,128.58 472.5,128.61 473.2,128.48 473.9,128.24 474.6,128.05 475.3,127.86 476,127.83 476.7,127.88 477.4,127.86 478.1,127.68 478.8,127.6 479.5,127.39 480.2,127.39 480.9,127.2 481.6,127.2 482.3,127.25 483,127.32 483.7,127.53 484.4,127.78 485.1,128.05 485.8,128.39 486.5,128.33 487.2,128.46 487.9,128.76 488.6,128.61 489.3,128.7 490,128.75 490.7,128.88 491.4,129.11 492.1,128.87 492.8,129.1" fill="none" stroke="#b8b26a" stroke-width="0.9" stroke-linejoin="round"/>
<path d="M351,139.11 351.7,138.8 352.4,138.97 353.1,138.88 353.8,138.8 354.5,138.82 355.2,138.49 355.9,138.47 356.6,138.57 357.3,138.36 358,138.36 358.7,137.94 359.4,137.49 360.1,137.04 360.8,136.94 361.5,136.33 362.2,135.78 362.9,134.93 363.6,133.94 364.3,132.67 365,131.26 365.7,129.57 366.4,128.53 367.1,127.71 367.8,128.08 368.5,128.2 369.2,128.62 369.9,128.67 370.6,127.92 371.3,126.87 372,125.22 372.7,123.33 373.4,121.34 374.1,120.21 374.8,120.03 375.5,121.3 376.2,123.14 376.9,125.56 377.6,127.52 378.3,128.73 379,129.47 379.7,130.11 380.4,130.23 381.1,130.09 381.8,129.65 382.5,128.78 383.2,127.43 383.9,125.98 384.6,124.08 385.3,122.13 386,121.18 386.7,121.14 387.4,121.99 388.1,122.9 388.8,123.31 389.5,123.11 390.2,122.22 390.9,121.03 391.6,119.53 392.3,118.03 393,117.54 393.7,118.33 394.4,120.17 395.1,122.56 395.8,125.06 396.5,127.19 397.2,128.91 397.9,130.21 398.6,131.06 399.3,131.85 400,132.17 400.7,132.6 401.4,133.05 402.1,133.35 402.8,133.76 403.5,133.76 404.2,133.79 404.9,134.03 405.6,134.04 406.3,134.28 407,134.48 407.7,134.62 408.4,134.73 409.1,134.65 409.8,134.59 410.5,134.54 411.2,134.8 411.9,134.68 412.6,134.74 413.3,134.84 414,134.85 414.7,134.9 415.4,135.04 416.1,135.04 416.8,134.94 417.5,134.86 418.2,134.73 418.9,134.97 419.6,134.82 420.3,134.77" fill="none" stroke="#2a2a58" stroke-width="0.9" stroke-linejoin="round"/>
<path d="M423.5,139.43 424.2,139.3 424.9,139.6 425.6,139.49 426.3,139.37 427,139.64 427.7,139.59 428.4,139.4 429.1,139.57 429.8,139.43 430.5,139.31 431.2,139.45 431.9,139.65 432.6,139.74 433.3,139.51 434,139.55 434.7,139.62 435.4,139.59 436.1,139.36 436.8,139.5 437.5,139.68 438.2,139.37 438.9,139.44 439.6,139.44 440.3,139.16 441,139.27 441.7,139.39 442.4,139.08 443.1,139.13 443.8,139.13 444.5,138.76 445.2,138.79 445.9,138.44 446.6,138.4 447.3,138.3 448,138.19 448.7,137.88 449.4,137.57 450.1,137.34 450.8,137.03 451.5,136.82 452.2,136.33 452.9,135.87 453.6,135.55 454.3,135.22 455,135.25 455.7,135.13 456.4,135.03 457.1,134.98 457.8,134.62 458.5,134.55 459.2,134.68 459.9,135.11 460.6,135.76 461.3,136.19 462,136.77 462.7,136.87 463.4,137.32 464.1,137.66 464.8,137.63 465.5,137.97 466.2,137.86 466.9,138.06 467.6,138 468.3,138.16 469,137.87 469.7,137.84 470.4,137.78 471.1,137.51 471.8,137.29 472.5,137.19 473.2,137.08 473.9,136.69 474.6,136.57 475.3,136 476,135.77 476.7,135.58 477.4,135.29 478.1,135.12 478.8,134.87 479.5,134.59 480.2,134.48 480.9,134.49 481.6,134.63 482.3,134.78 483,134.91 483.7,135.32 484.4,135.59 485.1,136.04 485.8,136.61 486.5,137.06 487.2,137.14 487.9,137.44 488.6,137.73 489.3,137.91 490,137.91 490.7,138.16 491.4,138.33 492.1,138.46 492.8,138.7" fill="none" stroke="#2a2a58" stroke-width="0.9" stroke-linejoin="round"/>
<path d="M351,149.79 351.7,149.72 352.4,149.66 353.1,149.64 353.8,149.6 354.5,149.45 355.2,149.58 355.9,149.28 356.6,149.46 357.3,149.21 358,149.33 358.7,149.08 359.4,149.11 360.1,149.13 360.8,148.81 361.5,148.33 362.2,147.8 362.9,147.14 363.6,146.3 364.3,145.71 365,144.7 365.7,143.78 366.4,142.77 367.1,142.51 367.8,142.61 368.5,142.88 369.2,142.9 369.9,142.77 370.6,142.08 371.3,141.04 372,139.66 372.7,137.44 373.4,135.63 374.1,134.37 374.8,134.1 375.5,135.57 376.2,137.57 376.9,139.96 377.6,141.9 378.3,143.19 379,144.45 379.7,145.06 380.4,145.22 381.1,145.55 381.8,145.38 382.5,145.01 383.2,144.5 383.9,143.66 384.6,142.61 385.3,141.63 386,140.36 386.7,139.11 387.4,138.3 388.1,138.6 388.8,138.98 389.5,139.46 390.2,139.17 390.9,138.66 391.6,137.66 392.3,136.37 393,135.59 393.7,135.34 394.4,136.21 395.1,137.77 395.8,139.77 396.5,141.52 397.2,142.94 397.9,143.69 398.6,144.46 399.3,145.02 400,145.33 400.7,145.48 401.4,145.76 402.1,145.94 402.8,145.89 403.5,145.87 404.2,146.09 404.9,146.33 405.6,146.11 406.3,146.08 407,146.13 407.7,146.26 408.4,146.1 409.1,146.24 409.8,146.43 410.5,146.6 411.2,146.59 411.9,146.48 412.6,146.53 413.3,146.3 414,146.3 414.7,146.39 415.4,146.36 416.1,146.36 416.8,146.36 417.5,146.42 418.2,146.45 418.9,146.48 419.6,146.35 420.3,146.55" fill="none" stroke="#704670" stroke-width="0.9" stroke-linejoin="round"/>
<path d="M423.5,149.66 424.2,149.78 424.9,149.61 425.6,149.85 426.3,149.8 427,149.79 427.7,149.66 428.4,149.8 429.1,149.85 429.8,149.93 430.5,149.79 431.2,149.69 431.9,149.88 432.6,149.9 433.3,149.9 434,149.56 434.7,149.56 435.4,149.5 436.1,149.57 436.8,149.44 437.5,149.27 438.2,149.21 438.9,149.45 439.6,149.37 440.3,149.26 441,149.35 441.7,149.03 442.4,148.98 443.1,148.9 443.8,148.63 444.5,148.39 445.2,148.18 445.9,147.78 446.6,147.56 447.3,147.36 448,147.2 448.7,146.72 449.4,146.32 450.1,145.81 450.8,145.38 451.5,145.06 452.2,144.64 452.9,144.11 453.6,143.61 454.3,142.77 455,142.2 455.7,141.87 456.4,141.39 457.1,141.12 457.8,141.24 458.5,141.2 459.2,141.71 459.9,142 460.6,142.87 461.3,143.63 462,144.38 462.7,144.78 463.4,145.22 464.1,145.73 464.8,146.32 465.5,146.62 466.2,146.71 466.9,147.05 467.6,146.86 468.3,146.74 469,146.58 469.7,146.52 470.4,146.43 471.1,146.12 471.8,146.14 472.5,146.02 473.2,145.89 473.9,145.65 474.6,145.09 475.3,144.91 476,144.36 476.7,144.03 477.4,143.48 478.1,143.07 478.8,142.77 479.5,142.48 480.2,142.65 480.9,142.7 481.6,142.81 482.3,143.01 483,143.21 483.7,143.44 484.4,143.83 485.1,144.15 485.8,144.61 486.5,145.17 487.2,145.56 487.9,145.79 488.6,145.97 489.3,146.34 490,146.62 490.7,146.71 491.4,146.96 492.1,146.85 492.8,147.18" fill="none" stroke="#704670" stroke-width="0.9" stroke-linejoin="round"/>
<path d="M351,160.54 351.7,160.53 352.4,160.65 353.1,160.56 353.8,160.54 354.5,160.31 355.2,160.2 355.9,160.26 356.6,160.17 357.3,160.1 358,160.37 358.7,160.22 359.4,160.12 360.1,159.97 360.8,159.94 361.5,160.05 362.2,160.13 362.9,159.89 363.6,159.84 364.3,159.45 365,159.17 365.7,158.77 366.4,158.67 367.1,158.64 367.8,158.43 368.5,158.45 369.2,158.58 369.9,158.52 370.6,158.43 371.3,158.14 372,157.85 372.7,157.64 373.4,157.16 374.1,157.01 374.8,157.18 375.5,157.74 376.2,158.3 376.9,158.54 377.6,158.74 378.3,158.99 379,159.36 379.7,159.36 380.4,159.43 381.1,159.51 381.8,159.41 382.5,159.33 383.2,159.1 383.9,158.8 384.6,158.38 385.3,158.37 386,158.05 386.7,157.64 387.4,157.56 388.1,157.59 388.8,157.5 389.5,157.77 390.2,157.51 390.9,157.33 391.6,157.17 392.3,157.21 393,157.22 393.7,157.65 394.4,157.93 395.1,158.36 395.8,158.43 396.5,158.61 397.2,158.91 397.9,158.99 398.6,159.22 399.3,159.31 400,159.52 400.7,159.35 401.4,159.29 402.1,159.27 402.8,159.55 403.5,159.4 404.2,159.67 404.9,159.59 405.6,159.58 406.3,159.76 407,159.71 407.7,159.48 408.4,159.46 409.1,159.58 409.8,159.44 410.5,159.55 411.2,159.39 411.9,159.51 412.6,159.72 413.3,159.46 414,159.69 414.7,159.76 415.4,159.57 416.1,159.74 416.8,159.66 417.5,159.47 418.2,159.48 418.9,159.59 419.6,159.48 420.3,159.38" fill="none" stroke="#ac6654" stroke-width="0.9" stroke-linejoin="round"/>
<path d="M423.5,160.03 424.2,160.03 424.9,160.15 425.6,160.18 426.3,159.94 427,159.79 427.7,160.12 428.4,160.23 429.1,160.27 429.8,160.03 430.5,160.14 431.2,160.21 431.9,159.98 432.6,160.09 433.3,159.78 434,159.81 434.7,159.62 435.4,159.51 436.1,159.7 436.8,159.52 437.5,159.55 438.2,159.62 438.9,159.69 439.6,159.39 440.3,159.22 441,159.15 441.7,158.79 442.4,158.76 443.1,158.51 443.8,158.39 444.5,158.04 445.2,157.41 445.9,157.01 446.6,156.69 447.3,156.2 448,155.46 448.7,154.87 449.4,153.93 450.1,153.38 450.8,152.34 451.5,151.45 452.2,150.46 452.9,149.68 453.6,148.97 454.3,148.13 455,147.11 455.7,146.53 456.4,146.01 457.1,145.36 457.8,144.99 458.5,145.12 459.2,145.71 459.9,146.76 460.6,147.81 461.3,149.04 462,150.3 462.7,151.51 463.4,152.73 464.1,153.67 464.8,154.34 465.5,154.76 466.2,155.21 466.9,155.12 467.6,155.21 468.3,155.13 469,154.93 469.7,154.98 470.4,154.58 471.1,154.15 471.8,154.01 472.5,153.78 473.2,153.12 473.9,152.45 474.6,151.84 475.3,151.38 476,150.76 476.7,150.34 477.4,149.78 478.1,149.15 478.8,148.48 479.5,148.28 480.2,147.79 480.9,147.97 481.6,147.86 482.3,148.4 483,148.8 483.7,149.36 484.4,149.96 485.1,150.84 485.8,151.53 486.5,152.36 487.2,152.82 487.9,153.59 488.6,153.84 489.3,154.23 490,154.78 490.7,154.78 491.4,155.11 492.1,155.45 492.8,155.6" fill="none" stroke="#ac6654" stroke-width="0.9" stroke-linejoin="round"/>
<path d="M351,171.32 351.7,171.28 352.4,171.07 353.1,170.82 353.8,170.82 354.5,170.73 355.2,170.68 355.9,170.7 356.6,170.86 357.3,171.01 358,171.14 358.7,171.04 359.4,171.13 360.1,170.94 360.8,171.01 361.5,170.92 362.2,170.86 362.9,170.76 363.6,170.87 364.3,170.86 365,170.62 365.7,170.65 366.4,170.45 367.1,170.19 367.8,170.3 368.5,170.12 369.2,170.15 369.9,169.99 370.6,170.04 371.3,169.93 372,169.86 372.7,170.01 373.4,169.99 374.1,170 374.8,170.13 375.5,170.19 376.2,170.15 376.9,170.22 377.6,170.27 378.3,170.61 379,170.56 379.7,170.57 380.4,170.43 381.1,170.75 381.8,170.86 382.5,170.55 383.2,170.61 383.9,170.46 384.6,170.39 385.3,170.39 386,170.34 386.7,170.23 387.4,169.97 388.1,170 388.8,169.9 389.5,170.04 390.2,169.91 390.9,169.85 391.6,169.74 392.3,169.62 393,169.94 393.7,169.8 394.4,169.93 395.1,170.21 395.8,170.33 396.5,170.59 397.2,170.69 397.9,170.5 398.6,170.44 399.3,170.34 400,170.59 400.7,170.76 401.4,170.75 402.1,170.69 402.8,170.56 403.5,170.66 404.2,170.53 404.9,170.52 405.6,170.64 406.3,170.5 407,170.73 407.7,170.63 408.4,170.76 409.1,170.9 409.8,170.79 410.5,170.7 411.2,170.61 411.9,170.66 412.6,170.45 413.3,170.38 414,170.62 414.7,170.83 415.4,170.54 416.1,170.6 416.8,170.78 417.5,170.85 418.2,170.66 418.9,170.78 419.6,170.76 420.3,170.62" fill="none" stroke="#62aa62" stroke-width="0.9" stroke-linejoin="round"/>
<path d="M423.5,170.67 424.2,170.56 424.9,170.36 425.6,170.3 426.3,170.33 427,170.34 427.7,170.48 428.4,170.41 429.1,170.35 429.8,170.34 430.5,170.36 431.2,170.25 431.9,170.41 432.6,170.27 433.3,170.05 434,170.32 434.7,170.37 435.4,170.06 436.1,170.24 436.8,170.01 437.5,169.94 438.2,170.08 438.9,169.88 439.6,169.98 440.3,169.62 441,169.57 441.7,169.18 442.4,168.86 443.1,168.89 443.8,168.66 444.5,168.48 445.2,167.94 445.9,167.7 446.6,167.35 447.3,166.88 448,165.99 448.7,165.44 449.4,164.76 450.1,163.96 450.8,163.09 451.5,162.26 452.2,161.15 452.9,160.37 453.6,159.45 454.3,158.36 455,157.64 455.7,156.99 456.4,156.17 457.1,155.85 457.8,155.47 458.5,155.59 459.2,156.34 459.9,157.36 460.6,158.61 461.3,159.52 462,160.71 462.7,161.84 463.4,162.91 464.1,163.76 464.8,164.16 465.5,164.83 466.2,165.12 466.9,165.28 467.6,165.41 468.3,165.46 469,165.47 469.7,165.47 470.4,165.09 471.1,164.71 471.8,164.48 472.5,164.31 473.2,163.75 473.9,163.53 474.6,163.22 475.3,162.61 476,161.94 476.7,161.42 477.4,161.08 478.1,160.31 478.8,160.06 479.5,159.75 480.2,159.26 480.9,159.1 481.6,159.18 482.3,159.73 483,159.97 483.7,160.56 484.4,161.33 485.1,161.67 485.8,162.02 486.5,162.8 487.2,163.24 487.9,163.43 488.6,163.9 489.3,164.28 490,164.36 490.7,164.6 491.4,164.54 492.1,164.59 492.8,164.64" fill="none" stroke="#62aa62" stroke-width="0.9" stroke-linejoin="round"/>
<path d="M351,181 351.7,181.25 352.4,181.18 353.1,181.19 353.8,181.23 354.5,181.22 355.2,181.33 355.9,181.44 356.6,181.19 357.3,181.29 358,181.45 358.7,181.17 359.4,181.2 360.1,181.14 360.8,181.25 361.5,181.39 362.2,181.38 362.9,181.14 363.6,181.21 364.3,180.95 365,181.03 365.7,180.8 366.4,180.96 367.1,180.94 367.8,181.08 368.5,181.15 369.2,181.03 369.9,181.01 370.6,180.9 371.3,180.95 372,180.92 372.7,180.89 373.4,180.63 374.1,180.87 374.8,180.9 375.5,180.76 376.2,180.83 376.9,181.03 377.6,180.83 378.3,181.11 379,181.27 379.7,181.41 380.4,181.31 381.1,181.06 381.8,181.16 382.5,181.2 383.2,180.99 383.9,181.16 384.6,181.27 385.3,181.03 386,181.12 386.7,180.96 387.4,181.03 388.1,180.86 388.8,180.65 389.5,180.68 390.2,180.76 390.9,180.64 391.6,180.52 392.3,180.74 393,180.81 393.7,180.83 394.4,180.81 395.1,180.94 395.8,180.86 396.5,181.01 397.2,180.82 397.9,180.95 398.6,181.09 399.3,181.24 400,181.31 400.7,181.31 401.4,181.02 402.1,181.04 402.8,181.05 403.5,180.83 404.2,180.69 404.9,180.7 405.6,180.93 406.3,181.04 407,181.02 407.7,181.12 408.4,181.14 409.1,181.21 409.8,181.24 410.5,181.03 411.2,180.98 411.9,181.01 412.6,181.02 413.3,180.96 414,180.9 414.7,181.15 415.4,180.94 416.1,180.98 416.8,181.06 417.5,180.83 418.2,180.79 418.9,180.94 419.6,181.17 420.3,181.13" fill="none" stroke="#6898b8" stroke-width="0.9" stroke-linejoin="round"/>
<path d="M423.5,181.01 424.2,181.01 424.9,181.12 425.6,180.98 426.3,181.02 427,180.82 427.7,180.8 428.4,180.88 429.1,180.68 429.8,180.72 430.5,180.89 431.2,180.9 431.9,181 432.6,180.87 433.3,180.57 434,180.37 434.7,180.35 435.4,180.54 436.1,180.6 436.8,180.62 437.5,180.53 438.2,180.32 438.9,180.43 439.6,180.24 440.3,180.09 441,179.84 441.7,179.53 442.4,179.44 443.1,179.19 443.8,179.06 444.5,178.75 445.2,178.32 445.9,178.13 446.6,177.6 447.3,177.05 448,176.6 448.7,176.03 449.4,175.12 450.1,174.47 450.8,173.81 451.5,173.02 452.2,172.08 452.9,171.2 453.6,170.33 454.3,169.46 455,168.67 455.7,167.83 456.4,167.14 457.1,166.9 457.8,166.6 458.5,166.84 459.2,167.16 459.9,167.89 460.6,169.2 461.3,170.22 462,171.41 462.7,172.59 463.4,173.25 464.1,173.86 464.8,174.43 465.5,174.95 466.2,175.16 466.9,175.48 467.6,175.6 468.3,175.62 469,175.47 469.7,175.27 470.4,175.27 471.1,175.16 471.8,174.79 472.5,174.36 473.2,174 473.9,173.35 474.6,172.73 475.3,172.2 476,171.7 476.7,171.08 477.4,170.69 478.1,169.97 478.8,169.69 479.5,169.1 480.2,168.86 480.9,168.92 481.6,169.18 482.3,169.4 483,169.87 483.7,170.34 484.4,171.17 485.1,171.59 485.8,172.27 486.5,172.89 487.2,173.3 487.9,173.75 488.6,174.22 489.3,174.65 490,174.91 490.7,175.31 491.4,175.5 492.1,175.39 492.8,175.66" fill="none" stroke="#6898b8" stroke-width="0.9" stroke-linejoin="round"/>
<path d="M351,191.95 351.7,191.68 352.4,191.73 353.1,191.68 353.8,191.63 354.5,191.54 355.2,191.66 355.9,191.53 356.6,191.79 357.3,191.57 358,191.67 358.7,191.59 359.4,191.67 360.1,191.52 360.8,191.57 361.5,191.47 362.2,191.5 362.9,191.23 363.6,191.03 364.3,191.08 365,190.79 365.7,190.46 366.4,190.54 367.1,190.6 367.8,190.35 368.5,190.2 369.2,190.47 369.9,190.31 370.6,190.07 371.3,190.15 372,189.89 372.7,189.92 373.4,189.77 374.1,189.91 374.8,190.14 375.5,190.54 376.2,190.64 376.9,190.74 377.6,191.02 378.3,191.31 379,191.47 379.7,191.48 380.4,191.15 381.1,191.03 381.8,190.85 382.5,190.75 383.2,190.87 383.9,190.73 384.6,190.27 385.3,189.91 386,189.51 386.7,189.28 387.4,189.17 388.1,189.08 388.8,188.96 389.5,189.05 390.2,189.19 390.9,189.06 391.6,189.06 392.3,188.96 393,188.9 393.7,189.21 394.4,189.61 395.1,190.09 395.8,190.39 396.5,190.59 397.2,190.72 397.9,190.68 398.6,191.04 399.3,191.19 400,191.35 400.7,191.08 401.4,191.04 402.1,191.02 402.8,190.93 403.5,191.24 404.2,191.03 404.9,191.16 405.6,191.11 406.3,191.17 407,191.07 407.7,191.2 408.4,191.29 409.1,191.35 409.8,191.19 410.5,191.2 411.2,191.35 411.9,191.35 412.6,191.25 413.3,191.28 414,191.2 414.7,191.05 415.4,191.04 416.1,190.97 416.8,191.14 417.5,191 418.2,190.88 418.9,190.99 419.6,191.28 420.3,191.43" fill="none" stroke="#404088" stroke-width="0.9" stroke-linejoin="round"/>
<path d="M423.5,191.35 424.2,191.17 424.9,191.11 425.6,191.17 426.3,191.18 427,191.37 427.7,191.27 428.4,191.02 429.1,191.21 429.8,191.14 430.5,190.98 431.2,190.97 431.9,191.08 432.6,191.18 433.3,191.01 434,190.81 434.7,190.7 435.4,190.82 436.1,190.72 436.8,190.61 437.5,190.71 438.2,190.57 438.9,190.61 439.6,190.67 440.3,190.74 441,190.4 441.7,190.11 442.4,190.17 443.1,190.09 443.8,189.81 444.5,189.56 445.2,189.03 445.9,188.77 446.6,188.24 447.3,187.73 448,187.27 448.7,186.51 449.4,185.96 450.1,185.3 450.8,184.52 451.5,183.84 452.2,183.2 452.9,182.13 453.6,181.23 454.3,180.44 455,179.69 455.7,178.95 456.4,178.52 457.1,178.31 457.8,178.02 458.5,177.97 459.2,178.72 459.9,179.25 460.6,180.31 461.3,181.11 462,182.08 462.7,183.21 463.4,184.17 464.1,184.66 464.8,185.05 465.5,185.45 466.2,185.83 466.9,186.08 467.6,186.1 468.3,186.03 469,185.9 469.7,185.96 470.4,185.63 471.1,185.23 471.8,184.99 472.5,184.9 473.2,184.57 473.9,183.96 474.6,183.46 475.3,182.7 476,182.12 476.7,181.5 477.4,181.12 478.1,180.53 478.8,179.93 479.5,179.41 480.2,179.09 480.9,179.23 481.6,179.39 482.3,179.53 483,180.28 483.7,181.03 484.4,181.71 485.1,182.14 485.8,182.81 486.5,183.26 487.2,183.65 487.9,184.04 488.6,184.73 489.3,184.95 490,185.11 490.7,185.3 491.4,185.38 492.1,185.49 492.8,185.66" fill="none" stroke="#404088" stroke-width="0.9" stroke-linejoin="round"/>
<path d="M351,201.63 351.7,201.72 352.4,201.97 353.1,202.04 353.8,201.79 354.5,201.91 355.2,201.91 355.9,201.73 356.6,201.7 357.3,201.64 358,201.73 358.7,201.76 359.4,201.95 360.1,201.99 360.8,202.01 361.5,201.79 362.2,201.6 362.9,201.58 363.6,201.2 364.3,201.06 365,200.71 365.7,200.53 366.4,200.15 367.1,200.06 367.8,199.7 368.5,199.75 369.2,199.53 369.9,199.49 370.6,199.38 371.3,198.95 372,198.81 372.7,198.57 373.4,198.45 374.1,198.41 374.8,198.75 375.5,199.44 376.2,199.84 376.9,199.98 377.6,200.17 378.3,200.53 379,200.86 379.7,200.99 380.4,200.84 381.1,200.96 381.8,200.67 382.5,200.7 383.2,200.42 383.9,200.12 384.6,199.98 385.3,199.62 386,199.22 386.7,199.05 387.4,198.81 388.1,198.64 388.8,198.41 389.5,198.53 390.2,198.59 390.9,198.41 391.6,198.22 392.3,198.18 393,198.1 393.7,198.55 394.4,198.88 395.1,199.24 395.8,199.7 396.5,199.94 397.2,200.13 397.9,200.31 398.6,200.24 399.3,200.12 400,200.05 400.7,200.34 401.4,200.45 402.1,200.26 402.8,200.53 403.5,200.69 404.2,200.8 404.9,200.47 405.6,200.48 406.3,200.51 407,200.68 407.7,200.44 408.4,200.24 409.1,200.26 409.8,200.18 410.5,200.27 411.2,200.45 411.9,200.61 412.6,200.65 413.3,200.75 414,200.71 414.7,200.82 415.4,200.9 416.1,200.57 416.8,200.39 417.5,200.3 418.2,200.45 418.9,200.49 419.6,200.48 420.3,200.36" fill="none" stroke="#f2b676" stroke-width="0.9" stroke-linejoin="round"/>
<path d="M423.5,201.63 424.2,201.61 424.9,201.58 425.6,201.43 426.3,201.54 427,201.76 427.7,201.71 428.4,201.46 429.1,201.61 429.8,201.5 430.5,201.64 431.2,201.65 431.9,201.5 432.6,201.62 433.3,201.53 434,201.4 434.7,201.39 435.4,201.21 436.1,201.04 436.8,201.17 437.5,201.01 438.2,200.88 438.9,200.84 439.6,200.78 440.3,200.7 441,200.52 441.7,200.37 442.4,200.38 443.1,200.13 443.8,199.85 444.5,199.66 445.2,199.22 445.9,199.05 446.6,198.66 447.3,198.22 448,197.72 448.7,197.37 449.4,196.69 450.1,196.25 450.8,195.51 451.5,194.8 452.2,193.95 452.9,193.05 453.6,192.13 454.3,191.58 455,190.66 455.7,190.08 456.4,189.58 457.1,189.44 457.8,189.03 458.5,189.31 459.2,189.83 459.9,190.56 460.6,191.45 461.3,192.36 462,193.24 462.7,193.96 463.4,194.69 464.1,195.13 464.8,195.43 465.5,195.67 466.2,196.08 466.9,196.17 467.6,196.15 468.3,196.06 469,196.03 469.7,195.96 470.4,195.51 471.1,195.09 471.8,194.76 472.5,194.19 473.2,193.86 473.9,193.07 474.6,192.26 475.3,191.45 476,191.04 476.7,190.24 477.4,189.43 478.1,188.99 478.8,188.33 479.5,188.04 480.2,187.84 480.9,187.88 481.6,188.02 482.3,188.17 483,188.73 483.7,189.34 484.4,189.99 485.1,191.08 485.8,191.72 486.5,192.35 487.2,193.06 487.9,193.81 488.6,194.48 489.3,194.89 490,195.25 490.7,195.59 491.4,195.66 492.1,195.77 492.8,196.02" fill="none" stroke="#f2b676" stroke-width="0.9" stroke-linejoin="round"/>
<path d="M351,212.4 351.7,212.31 352.4,212.17 353.1,212.1 353.8,212.06 354.5,211.92 355.2,211.9 355.9,212.02 356.6,211.95 357.3,211.93 358,212.06 358.7,212.19 359.4,212.17 360.1,211.97 360.8,211.8 361.5,211.83 362.2,211.63 362.9,211.57 363.6,211.1 364.3,210.63 365,209.95 365.7,209.27 366.4,209.09 367.1,208.62 367.8,208.84 368.5,208.75 369.2,208.67 369.9,208.81 370.6,208.59 371.3,208.19 372,207.28 372.7,206.64 373.4,206.3 374.1,206.59 374.8,207.46 375.5,208.22 376.2,209.16 376.9,209.93 377.6,210.45 378.3,210.68 379,210.99 379.7,211.05 380.4,211.05 381.1,210.89 381.8,210.84 382.5,210.7 383.2,210.34 383.9,209.88 384.6,209.16 385.3,208.63 386,207.97 386.7,207.45 387.4,207 388.1,206.68 388.8,206.66 389.5,206.53 390.2,206.07 390.9,205.53 391.6,205.2 392.3,205.05 393,205.21 393.7,206.04 394.4,206.94 395.1,208.14 395.8,209.02 396.5,209.57 397.2,210.2 397.9,210.66 398.6,210.69 399.3,210.95 400,210.8 400.7,210.84 401.4,210.75 402.1,210.86 402.8,210.95 403.5,211.11 404.2,211.3 404.9,211.02 405.6,211.18 406.3,211.34 407,211.07 407.7,211.08 408.4,211.07 409.1,210.91 409.8,210.9 410.5,211.11 411.2,211.22 411.9,211.13 412.6,211.06 413.3,211.22 414,211.31 414.7,211.25 415.4,211.41 416.1,211.18 416.8,211.11 417.5,211.29 418.2,211.21 418.9,211.16 419.6,211.35 420.3,211.31" fill="none" stroke="#9a6ad8" stroke-width="0.9" stroke-linejoin="round"/>
<path d="M423.5,211.96 424.2,211.99 424.9,211.88 425.6,212.03 426.3,211.78 427,211.77 427.7,211.81 428.4,212.06 429.1,212.06 429.8,212.21 430.5,212.1 431.2,212.14 431.9,212.13 432.6,212.08 433.3,212.12 434,212.07 434.7,211.93 435.4,211.99 436.1,211.83 436.8,211.54 437.5,211.45 438.2,211.27 438.9,211.5 439.6,211.37 440.3,211.43 441,211.12 441.7,211.07 442.4,210.88 443.1,210.67 443.8,210.74 444.5,210.69 445.2,210.24 445.9,209.84 446.6,209.63 447.3,209.52 448,209.28 448.7,208.6 449.4,208.04 450.1,207.62 450.8,207.01 451.5,206.34 452.2,206.04 452.9,205.29 453.6,204.47 454.3,203.77 455,203.11 455.7,202.74 456.4,202.34 457.1,202.28 457.8,201.97 458.5,202.04 459.2,202.51 459.9,203.28 460.6,204.03 461.3,204.69 462,205.14 462.7,205.84 463.4,206.28 464.1,206.98 464.8,207.46 465.5,207.81 466.2,208.02 466.9,207.91 467.6,208 468.3,208.01 469,207.77 469.7,207.63 470.4,207.24 471.1,206.94 471.8,206.55 472.5,206.32 473.2,206 473.9,205.59 474.6,204.89 475.3,204.28 476,203.85 476.7,203.4 477.4,203.11 478.1,202.4 478.8,201.95 479.5,201.7 480.2,201.65 480.9,201.54 481.6,201.54 482.3,201.96 483,202.48 483.7,202.95 484.4,203.51 485.1,204.3 485.8,204.98 486.5,205.44 487.2,205.73 487.9,206.19 488.6,206.73 489.3,207.05 490,207.33 490.7,207.3 491.4,207.55 492.1,207.4 492.8,207.64" fill="none" stroke="#9a6ad8" stroke-width="0.9" stroke-linejoin="round"/>
<path d="M351,222.77 351.7,222.91 352.4,222.78 353.1,222.69 353.8,222.51 354.5,222.44 355.2,222.44 355.9,222.65 356.6,222.38 357.3,222.49 358,222.55 358.7,222.58 359.4,222.38 360.1,222.17 360.8,222.08 361.5,221.84 362.2,221.42 362.9,220.28 363.6,218.67 364.3,216.97 365,215.06 365.7,213.51 366.4,213.4 367.1,214.85 367.8,216.28 368.5,217.68 369.2,218.46 369.9,218.69 370.6,217.8 371.3,216.47 372,214.39 372.7,211.97 373.4,210.28 374.1,210.43 374.8,212.12 375.5,214.44 376.2,216.68 376.9,218.05 377.6,219.12 378.3,219.75 379,220.1 379.7,220.17 380.4,220.13 381.1,219.79 381.8,219.42 382.5,218.56 383.2,217.53 383.9,216.45 384.6,215.7 385.3,215.86 386,216.5 386.7,217.21 387.4,218.09 388.1,218.47 388.8,218.54 389.5,217.7 390.2,216.54 390.9,214.69 391.6,212.14 392.3,209.99 393,208.75 393.7,209.08 394.4,210.97 395.1,213.51 395.8,215.63 396.5,217.05 397.2,217.9 397.9,218.37 398.6,218.66 399.3,219.13 400,219.27 400.7,219.33 401.4,219.56 402.1,219.37 402.8,219.48 403.5,219.34 404.2,219.3 404.9,219.46 405.6,219.53 406.3,219.52 407,219.63 407.7,219.78 408.4,219.7 409.1,219.73 409.8,219.74 410.5,219.51 411.2,219.4 411.9,219.47 412.6,219.69 413.3,219.5 414,219.6 414.7,219.74 415.4,219.53 416.1,219.34 416.8,219.51 417.5,219.49 418.2,219.33 418.9,219.39 419.6,219.5 420.3,219.66" fill="none" stroke="#e24c88" stroke-width="0.9" stroke-linejoin="round"/>
<path d="M423.5,223 424.2,222.7 424.9,222.56 425.6,222.75 426.3,222.65 427,222.8 427.7,222.64 428.4,222.7 429.1,222.6 429.8,222.6 430.5,222.8 431.2,222.7 431.9,222.61 432.6,222.81 433.3,222.93 434,222.9 434.7,222.68 435.4,222.42 436.1,222.5 436.8,222.36 437.5,222.33 438.2,222.49 438.9,222.51 439.6,222.32 440.3,222.36 441,222.35 441.7,222.23 442.4,222.38 443.1,222.3 443.8,222.19 444.5,222.07 445.2,221.89 445.9,221.91 446.6,221.78 447.3,221.63 448,221.63 448.7,221.25 449.4,220.86 450.1,220.72 450.8,220.6 451.5,220.46 452.2,220.24 452.9,220.06 453.6,219.9 454.3,219.43 455,219.34 455.7,219.3 456.4,219.05 457.1,219.19 457.8,219.13 458.5,219.11 459.2,219.11 459.9,219.5 460.6,219.99 461.3,220.02 462,220.59 462.7,220.85 463.4,221.05 464.1,221.02 464.8,221.32 465.5,221.58 466.2,221.72 466.9,221.76 467.6,221.86 468.3,221.56 469,221.52 469.7,221.34 470.4,221.38 471.1,221.16 471.8,220.85 472.5,220.88 473.2,220.49 473.9,220.46 474.6,220.15 475.3,219.78 476,219.66 476.7,219.3 477.4,219.24 478.1,219.12 478.8,218.78 479.5,218.71 480.2,218.91 480.9,219.02 481.6,219 482.3,219.2 483,219.58 483.7,219.61 484.4,219.97 485.1,220.07 485.8,220.47 486.5,220.89 487.2,221.12 487.9,221.15 488.6,221.19 489.3,221.41 490,221.72 490.7,221.8 491.4,221.99 492.1,222.08 492.8,222.3" fill="none" stroke="#e24c88" stroke-width="0.9" stroke-linejoin="round"/>
<path d="M351,233.56 351.7,233.21 352.4,233.07 353.1,233.21 353.8,233.13 354.5,233.34 355.2,233.11 355.9,233.06 356.6,232.98 357.3,233.06 358,233.09 358.7,232.94 359.4,233.05 360.1,233.19 360.8,233.16 361.5,232.55 362.2,231.97 362.9,230.83 363.6,228.67 364.3,226.2 365,223.63 365.7,221.88 366.4,222.03 367.1,223.53 367.8,225.54 368.5,227.38 369.2,228.26 369.9,228.16 370.6,226.15 371.3,223.34 372,220.37 372.7,217.73 373.4,217.36 374.1,218.57 374.8,221.68 375.5,224.98 376.2,227.49 376.9,229.09 377.6,229.95 378.3,230.21 379,230.57 379.7,230.42 380.4,230.38 381.1,229.82 381.8,229.17 382.5,228.06 383.2,226.85 383.9,225.14 384.6,224.24 385.3,224.17 386,224.88 386.7,226 387.4,227.41 388.1,228.27 388.8,228.38 389.5,227.87 390.2,226.54 390.9,224.22 391.6,221.31 392.3,218.7 393,217.47 393.7,217.71 394.4,219.45 395.1,222.05 395.8,224.76 396.5,226.79 397.2,227.59 397.9,228.07 398.6,228.45 399.3,228.41 400,228.43 400.7,228.42 401.4,228.52 402.1,228.45 402.8,228.53 403.5,228.57 404.2,228.62 404.9,228.47 405.6,228.33 406.3,228.49 407,228.68 407.7,228.71 408.4,228.51 409.1,228.57 409.8,228.75 410.5,228.49 411.2,228.52 411.9,228.69 412.6,228.5 413.3,228.49 414,228.33 414.7,228.24 415.4,228.19 416.1,228.14 416.8,228.32 417.5,228.25 418.2,228.34 418.9,228.32 419.6,228.5 420.3,228.43" fill="none" stroke="#a8a8a8" stroke-width="0.9" stroke-linejoin="round"/>
<path d="M423.5,233.47 424.2,233.24 424.9,233.41 425.6,233.33 426.3,233.17 427,233.08 427.7,233.01 428.4,233.16 429.1,233.4 429.8,233.15 430.5,233.3 431.2,233.14 431.9,233.24 432.6,233.29 433.3,233.28 434,233.27 434.7,233.16 435.4,233.18 436.1,233.37 436.8,233.33 437.5,233.5 438.2,233.26 438.9,233.42 439.6,233.43 440.3,233.34 441,233.39 441.7,233.18 442.4,233.1 443.1,233.25 443.8,233.3 444.5,233.2 445.2,233.23 445.9,233.2 446.6,233.31 447.3,233.28 448,233.25 448.7,233.09 449.4,233.24 450.1,233.13 450.8,233.32 451.5,233.41 452.2,233.48 452.9,233.22 453.6,233.43 454.3,233.47 455,233.42 455.7,233.28 456.4,233.22 457.1,233.42 457.8,233.42 458.5,233.27 459.2,233.44 459.9,233.55 460.6,233.31 461.3,233.52 462,233.62 462.7,233.63 463.4,233.35 464.1,233.4 464.8,233.39 465.5,233.34 466.2,233.15 466.9,233.41 467.6,233.5 468.3,233.46 469,233.34 469.7,233.48 470.4,233.44 471.1,233.35 471.8,233.52 472.5,233.51 473.2,233.62 473.9,233.31 474.6,233.52 475.3,233.58 476,233.42 476.7,233.49 477.4,233.38 478.1,233.42 478.8,233.16 479.5,233.18 480.2,233.29 480.9,233.44 481.6,233.39 482.3,233.23 483,233.17 483.7,233.13 484.4,233.19 485.1,233.04 485.8,233.19 486.5,233.21 487.2,233.05 487.9,233.02 488.6,233.14 489.3,233.08 490,233.05 490.7,233.24 491.4,233.31 492.1,233.19 492.8,233.29" fill="none" stroke="#a8a8a8" stroke-width="0.9" stroke-linejoin="round"/>
<path d="M351,242.83 351.7,242.77 352.4,242.94 353.1,242.94 353.8,242.62 354.5,242.73 355.2,242.54 355.9,242.76 356.6,242.74 357.3,242.61 358,242.59 358.7,242.26 359.4,242 360.1,242.04 360.8,241.98 361.5,241.32 362.2,240.48 362.9,239.31 363.6,237.71 364.3,235.49 365,232.74 365.7,230.82 366.4,230.85 367.1,232.63 367.8,234.94 368.5,236.83 369.2,237.91 369.9,237.99 370.6,237.2 371.3,235.44 372,232.87 372.7,229.7 373.4,227.13 374.1,227.05 374.8,228.95 375.5,231.97 376.2,235.05 376.9,237.44 377.6,238.72 378.3,239.76 379,240.3 379.7,240.53 380.4,240.17 381.1,239.86 381.8,239.38 382.5,238.31 383.2,236.81 383.9,235.28 384.6,234.34 385.3,234.14 386,235.12 386.7,236.64 387.4,237.88 388.1,238.65 388.8,238.9 389.5,238.2 390.2,237.02 390.9,234.97 391.6,232.36 392.3,229.99 393,228.58 393.7,229.09 394.4,231.19 395.1,233.96 395.8,236.2 396.5,237.89 397.2,239.08 397.9,239.46 398.6,239.71 399.3,239.95 400,240.27 400.7,240.19 401.4,240.31 402.1,240.17 402.8,240.2 403.5,240.4 404.2,240.31 404.9,240.33 405.6,240.45 406.3,240.33 407,240.47 407.7,240.64 408.4,240.79 409.1,240.63 409.8,240.69 410.5,240.78 411.2,240.88 411.9,240.62 412.6,240.69 413.3,240.48 414,240.33 414.7,240.28 415.4,240.52 416.1,240.34 416.8,240.38 417.5,240.3 418.2,240.23 418.9,240.45 419.6,240.55 420.3,240.39" fill="none" stroke="#b4e8f2" stroke-width="0.9" stroke-linejoin="round"/>
<path d="M423.5,242.98 424.2,243.16 424.9,243.3 425.6,243.16 426.3,243.18 427,242.91 427.7,243.16 428.4,243.14 429.1,242.99 429.8,242.95 430.5,242.82 431.2,242.83 431.9,242.73 432.6,242.63 433.3,242.62 434,242.73 434.7,242.88 435.4,242.92 436.1,243.07 436.8,243.15 437.5,243.08 438.2,243.08 438.9,243.1 439.6,243.24 440.3,242.93 441,243.03 441.7,243.03 442.4,243.08 443.1,243.03 443.8,242.89 444.5,242.74 445.2,242.8 445.9,242.69 446.6,242.87 447.3,242.93 448,243.03 448.7,242.81 449.4,243.05 450.1,243.15 450.8,242.97 451.5,243.1 452.2,243.25 452.9,243.21 453.6,243.14 454.3,243.1 455,243.18 455.7,243.18 456.4,243.2 457.1,243.26 457.8,243.15 458.5,243.21 459.2,243.26 459.9,242.97 460.6,242.81 461.3,242.94 462,242.95 462.7,243.15 463.4,243.3 464.1,243.17 464.8,242.91 465.5,243.13 466.2,243.1 466.9,242.93 467.6,243.17 468.3,243.07 469,243.14 469.7,242.97 470.4,242.84 471.1,242.74 471.8,242.72 472.5,243.01 473.2,242.94 473.9,242.94 474.6,243.05 475.3,243.16 476,243.11 476.7,243.1 477.4,243.1 478.1,242.86 478.8,243.04 479.5,242.86 480.2,243.07 480.9,242.96 481.6,243 482.3,243.05 483,243.04 483.7,243.18 484.4,243.23 485.1,243.18 485.8,243.24 486.5,242.99 487.2,242.91 487.9,242.89 488.6,242.85 489.3,243.06 490,243.25 490.7,243.33 491.4,243.03 492.1,243.02 492.8,242.81" fill="none" stroke="#b4e8f2" stroke-width="0.9" stroke-linejoin="round"/>
<path d="M351,252.19 351.7,252.24 352.4,252.14 353.1,251.98 353.8,252.06 354.5,252.07 355.2,252.11 355.9,252.17 356.6,251.89 357.3,251.69 358,251.74 358.7,251.85 359.4,251.53 360.1,251.41 360.8,251.05 361.5,250.66 362.2,250.05 362.9,248.57 363.6,246.84 364.3,244.12 365,241.69 365.7,239.88 366.4,240.06 367.1,241.8 367.8,243.92 368.5,246.02 369.2,247.34 369.9,247.84 370.6,247.48 371.3,245.93 372,243.58 372.7,240.04 373.4,236.15 374.1,233.05 374.8,232.2 375.5,234.36 376.2,238.3 376.9,241.87 377.6,244.74 378.3,246.91 379,247.94 379.7,248.76 380.4,248.76 381.1,248.35 381.8,247.75 382.5,246.73 383.2,245.39 383.9,244.05 384.6,243.24 385.3,243.31 386,244.4 386.7,245.58 387.4,246.59 388.1,247.15 388.8,247.48 389.5,246.86 390.2,245.67 390.9,244.29 391.6,242.06 392.3,240 393,238.76 393.7,239.11 394.4,240.87 395.1,243.35 395.8,245.43 396.5,246.91 397.2,247.86 397.9,248.61 398.6,249.03 399.3,249.34 400,249.39 400.7,249.14 401.4,249.36 402.1,249.25 402.8,249.24 403.5,249.15 404.2,249.13 404.9,249.45 405.6,249.53 406.3,249.36 407,249.35 407.7,249.25 408.4,249.56 409.1,249.39 409.8,249.49 410.5,249.38 411.2,249.4 411.9,249.52 412.6,249.52 413.3,249.74 414,249.47 414.7,249.34 415.4,249.36 416.1,249.38 416.8,249.35 417.5,249.46 418.2,249.62 418.9,249.53 419.6,249.34 420.3,249.27" fill="none" stroke="#e8bce8" stroke-width="0.9" stroke-linejoin="round"/>
<path d="M423.5,252.19 424.2,252.46 424.9,252.56 425.6,252.63 426.3,252.55 427,252.35 427.7,252.36 428.4,252.38 429.1,252.46 429.8,252.62 430.5,252.67 431.2,252.39 431.9,252.26 432.6,252.29 433.3,252.29 434,252.49 434.7,252.71 435.4,252.83 436.1,252.91 436.8,252.88 437.5,252.52 438.2,252.48 438.9,252.61 439.6,252.74 440.3,252.86 441,252.93 441.7,252.92 442.4,252.82 443.1,252.85 443.8,252.83 444.5,252.64 445.2,252.75 445.9,252.81 446.6,252.57 447.3,252.64 448,252.52 448.7,252.61 449.4,252.48 450.1,252.7 450.8,252.72 451.5,252.47 452.2,252.58 452.9,252.49 453.6,252.62 454.3,252.74 455,252.68 455.7,252.63 456.4,252.78 457.1,252.66 457.8,252.63 458.5,252.64 459.2,252.47 459.9,252.31 460.6,252.43 461.3,252.54 462,252.41 462.7,252.33 463.4,252.39 464.1,252.39 464.8,252.5 465.5,252.4 466.2,252.41 466.9,252.29 467.6,252.46 468.3,252.67 469,252.44 469.7,252.43 470.4,252.32 471.1,252.29 471.8,252.25 472.5,252.41 473.2,252.29 473.9,252.32 474.6,252.43 475.3,252.61 476,252.74 476.7,252.76 477.4,252.74 478.1,252.72 478.8,252.58 479.5,252.34 480.2,252.38 480.9,252.35 481.6,252.63 482.3,252.49 483,252.48 483.7,252.37 484.4,252.49 485.1,252.43 485.8,252.45 486.5,252.35 487.2,252.44 487.9,252.32 488.6,252.23 489.3,252.32 490,252.39 490.7,252.35 491.4,252.4 492.1,252.23 492.8,252.15" fill="none" stroke="#e8bce8" stroke-width="0.9" stroke-linejoin="round"/>
<path d="M350.5,11.5 V257.3 H493.5 V11.5 Z" fill="none" stroke="#666" stroke-width="1"/>
<path d="M419.3,15.3 L421.5,7.6 M422.3,15.3 L424.5,7.6 M419.3,261.3 L421.5,253.4 M422.3,261.3 L424.5,253.4" stroke="#666" stroke-width="0.9"/>
<path d="M358.88,257.3 V255.3 M367.7,257.3 V253.8 M376.52,257.3 V255.3 M385.35,257.3 V253.8 M394.18,257.3 V255.3 M403,257.3 V253.8 M411.82,257.3 V255.3 M431.2,257.3 V255.3 M440.1,257.3 V253.8 M449,257.3 V255.3 M457.9,257.3 V253.8 M466.8,257.3 V255.3 M475.7,257.3 V253.8 M484.6,257.3 V255.3" stroke="#666" stroke-width="0.9"/>
<text transform="translate(343.4,269.8) scale(0.9,1)" font-size="9.2" fill="#222" stroke="#222" stroke-width="0.15">455</text>
<text transform="translate(360.7,269.8) scale(0.9,1)" font-size="9.2" fill="#222" stroke="#222" stroke-width="0.15">460</text>
<text transform="translate(378.3,269.8) scale(0.9,1)" font-size="9.2" fill="#222" stroke="#222" stroke-width="0.15">465</text>
<text transform="translate(396,269.8) scale(0.9,1)" font-size="9.2" fill="#222" stroke="#222" stroke-width="0.15">470</text>
<text transform="translate(433.2,269.8) scale(0.9,1)" font-size="9.2" fill="#222" stroke="#222" stroke-width="0.15">515</text>
<text transform="translate(450.9,269.8) scale(0.9,1)" font-size="9.2" fill="#222" stroke="#222" stroke-width="0.15">520</text>
<text transform="translate(468.8,269.8) scale(0.9,1)" font-size="9.2" fill="#222" stroke="#222" stroke-width="0.15">525</text>
<text transform="translate(486.7,269.8) scale(0.9,1)" font-size="9.2" fill="#222" stroke="#222" stroke-width="0.15">530</text>
<text transform="translate(393.4,280.2) scale(0.88,1)" font-size="8.6" fill="#222" stroke="#222" stroke-width="0.15">Energy loss (eV)</text>
<text transform="translate(347,172.2) rotate(-90)" font-size="7.7" fill="#222" textLength="68" lengthAdjust="spacingAndGlyphs">Intensity (arb. units)</text>
<text transform="translate(363,7) scale(0.82,1)" font-size="8.8" fill="#333" stroke="#333" stroke-width="0.25">Ti-<tspan font-style="italic">L</tspan><tspan font-size="6" dy="2.0">3</tspan></text>
<text transform="translate(381.4,7) scale(0.82,1)" font-size="8.8" fill="#333" stroke="#333" stroke-width="0.25">Ti-<tspan font-style="italic">L</tspan><tspan font-size="6" dy="2.0">2</tspan></text>
<text transform="translate(449.5,7) scale(0.82,1)" font-size="8.8" fill="#333" stroke="#333" stroke-width="0.25">V-<tspan font-style="italic">L</tspan><tspan font-size="6" dy="2.0">3</tspan></text>
<text transform="translate(473,7) scale(0.82,1)" font-size="8.8" fill="#333" stroke="#333" stroke-width="0.25">V-<tspan font-style="italic">L</tspan><tspan font-size="6" dy="2.0">2</tspan></text>
<text transform="translate(494.3,35.6) scale(0.8,1)" font-size="9.6" fill="#a0a0a0" stroke="#a0a0a0" stroke-width="0.15">V<tspan font-size="6" dy="2.0">2</tspan><tspan font-size="9.6" dy="-2.0">O</tspan><tspan font-size="6" dy="2.0">3</tspan></text>
<text transform="translate(494.3,52) scale(0.8,1)" font-size="9.6" fill="#a0a0a0" stroke="#a0a0a0" stroke-width="0.15">VO<tspan font-size="6" dy="2.0">2</tspan><tspan font-size="9.6" dy="-2.0">(B)</tspan></text>
<text transform="translate(495.4,69.9) scale(0.76,1)" font-size="9.8" fill="#454848" stroke="#454848" stroke-width="0.3">19</text>
<text transform="translate(495.4,80.7) scale(0.76,1)" font-size="9.8" fill="#e46c6c" stroke="#e46c6c" stroke-width="0.3">18</text>
<text transform="translate(495.4,91.4) scale(0.76,1)" font-size="9.8" fill="#94da84" stroke="#94da84" stroke-width="0.3">17</text>
<text transform="translate(495.4,102.2) scale(0.76,1)" font-size="9.8" fill="#4a4aa8" stroke="#4a4aa8" stroke-width="0.3">16</text>
<text transform="translate(495.4,112.2) scale(0.76,1)" font-size="9.8" fill="#78dae4" stroke="#78dae4" stroke-width="0.3">15</text>
<text transform="translate(495.4,122.9) scale(0.76,1)" font-size="9.8" fill="#e25cd4" stroke="#e25cd4" stroke-width="0.3">14</text>
<text transform="translate(495.4,133.2) scale(0.76,1)" font-size="9.8" fill="#b8b26a" stroke="#b8b26a" stroke-width="0.3">13</text>
<text transform="translate(495.4,142.5) scale(0.76,1)" font-size="9.8" fill="#2a2a58" stroke="#2a2a58" stroke-width="0.3">12</text>
<text transform="translate(495.4,150.5) scale(0.76,1)" font-size="9.8" fill="#704670" stroke="#704670" stroke-width="0.3">11</text>
<text transform="translate(495.4,158.5) scale(0.76,1)" font-size="9.8" fill="#ac6654" stroke="#ac6654" stroke-width="0.3">10</text>
<text transform="translate(495.4,168.8) scale(0.76,1)" font-size="9.8" fill="#62aa62" stroke="#62aa62" stroke-width="0.3">9</text>
<text transform="translate(495.4,179.8) scale(0.76,1)" font-size="9.8" fill="#6898b8" stroke="#6898b8" stroke-width="0.3">8</text>
<text transform="translate(495.4,190) scale(0.76,1)" font-size="9.8" fill="#404088" stroke="#404088" stroke-width="0.3">7</text>
<text transform="translate(495.4,200.8) scale(0.76,1)" font-size="9.8" fill="#f2b676" stroke="#f2b676" stroke-width="0.3">6</text>
<text transform="translate(495.4,211.3) scale(0.76,1)" font-size="9.8" fill="#9a6ad8" stroke="#9a6ad8" stroke-width="0.3">5</text>
<text transform="translate(495.4,225.5) scale(0.76,1)" font-size="9.8" fill="#e24c88" stroke="#e24c88" stroke-width="0.3">4</text>
<text transform="translate(495.4,237.1) scale(0.76,1)" font-size="9.8" fill="#a8a8a8" stroke="#a8a8a8" stroke-width="0.3">3</text>
<text transform="translate(495.4,246.5) scale(0.76,1)" font-size="9.8" fill="#b4e8f2" stroke="#b4e8f2" stroke-width="0.3">2</text>
<text transform="translate(495.4,256.1) scale(0.76,1)" font-size="9.8" fill="#e8bce8" stroke="#e8bce8" stroke-width="0.3">1</text>
</g></svg></body></html>
